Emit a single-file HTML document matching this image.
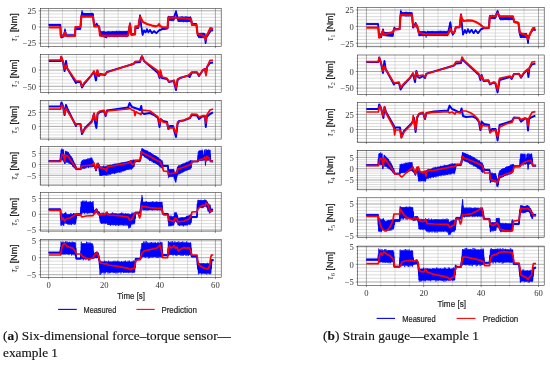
<!DOCTYPE html>
<html lang="en"><head><meta charset="utf-8"><title>Figure</title>
<style>
html,body{margin:0;padding:0;background:#fff;}
body{width:550px;height:368px;position:relative;overflow:hidden;font-family:"Liberation Serif",serif;}
svg text{fill:#222;}
.tk{font-family:"Liberation Serif",serif;font-size:8.6px;fill:#333;}
.sf{font-family:"Liberation Sans",sans-serif;font-size:9.6px;stroke:#222;stroke-width:0.2px;}
.yl{font-family:"Liberation Sans",sans-serif;font-size:8.9px;stroke:#222;stroke-width:0.25px;}
.tau{font-family:"Liberation Serif",serif;font-style:italic;font-size:9.6px;stroke:none;fill:#444;}
.sub{font-family:"Liberation Serif",serif;font-size:6.8px;stroke:none;fill:#444;}
.cap{position:absolute;font-family:"Liberation Serif",serif;font-size:13.3px;line-height:16.9px;color:#111;white-space:nowrap;-webkit-text-stroke:0.15px #111;}
.cap b{font-weight:bold;}
</style></head><body>
<svg width="550" height="368" viewBox="0 0 550 368" style="position:absolute;left:0;top:0">
<rect width="550" height="368" fill="#fff"/>
<clipPath id="c1"><rect x="40.5" y="8.5" width="180.7" height="37.9"/></clipPath>
<path d="M62.5 8.5V46.4M76.4 8.5V46.4M90.3 8.5V46.4M118.1 8.5V46.4M132 8.5V46.4M145.9 8.5V46.4M173.7 8.5V46.4M187.6 8.5V46.4M201.5 8.5V46.4M40.5 14H221.2M40.5 17.3H221.2M40.5 20.5H221.2M40.5 23.8H221.2M40.5 30.2H221.2M40.5 33.5H221.2M40.5 36.7H221.2M40.5 40H221.2" stroke="#b8b8b8" stroke-width="0.5" fill="none"/>
<path d="M48.6 8.5V46.4M104.2 8.5V46.4M159.8 8.5V46.4M215.4 8.5V46.4M40.5 10.8H221.2M40.5 27H221.2M40.5 43.2H221.2" stroke="#707070" stroke-width="0.6" fill="none"/>
<g clip-path="url(#c1)">
<polygon points="48.8,24.2 60.4,24.2 60.8,34.3 61.6,35.3 64,34.3 65,28.3 66,34.4 75,34.4 75.4,28.4 80.4,28.4 81.2,16.3 82,10 82.8,13.3 93,13.3 94,24.4 95.2,25.4 96.6,22.8 98,25.4 99.2,26 100,31.4 106.6,32 107,31.7 128,31.3 129,28.3 130,22 131,31.4 131.6,33.4 135,33.4 135.4,27.4 138.4,27.4 139.2,20.4 140,14.3 141.2,24.4 142.6,34.4 144,29.8 145.6,31.8 147,28.6 148.4,31.8 150,29.4 152,32.6 154,30.6 156.4,32.6 159,29.8 162,28.6 167.6,27.8 168.2,16.4 174,16.4 175,13.3 176,10.3 177.2,15.3 178,17 191,17 192,23.4 196.4,23.4 197.6,33.4 198.4,33.4 205,33.4 205.6,42.4 206.2,36.4 208,34.4 211,29.8 213,29.8 213,31 211,31 208,35.6 206.2,38.6 205.6,44 205,37.6 198.4,37.6 197.6,35.6 196.4,24.6 192,24.6 191,21.6 178,21.6 177.2,18.1 176,12.7 175,16.1 174,20.6 168.2,20.6 167.6,29 162,29.8 159,31 156.4,33.8 154,31.8 152,33.8 150,30.6 148.4,33 147,29.8 145.6,33 144,31 142.6,35.6 141.2,26.6 140,16.6 139.2,22.6 138.4,28.6 135.4,28.6 135,34.6 131.6,35.2 131,33.6 130,25.6 129,31.7 128,36.5 107,36.5 106.6,37.8 100,35.6 99.2,27.2 98,26.6 96.6,24.6 95.2,26.6 94,26 93,16.1 82.8,15.7 82,14.6 81.2,19.7 80.4,29.6 75.4,29.6 75,36.6 66,36.6 65,31.7 64,36.9 61.6,38.1 60.8,37.7 60.4,25.4 48.8,25.4" fill="#0000ff" stroke="#0000ff" stroke-width="0.4" stroke-linejoin="round"/>
<polyline points="48.8,24.8 60.4,24.8 60.8,36 61.6,36.7 64,35.6 65,30 66,35.5 75,35.5 75.4,29 80.4,29 81.2,18 82,12.3 82.8,14.5 93,14.7 94,25.2 95.2,26 96.6,23.7 98,26 99.2,26.6 100,33.5 106.6,34.9 107,34.1 128,33.9 129,30 130,23.8 131,32.5 131.6,34.3 135,34 135.4,28 138.4,28 139.2,21.5 140,15.5 141.2,25.5 142.6,35 144,30.4 145.6,32.4 147,29.2 148.4,32.4 150,30 152,33.2 154,31.2 156.4,33.2 159,30.4 162,29.2 167.6,28.4 168.2,18.5 174,18.5 175,14.7 176,11.5 177.2,16.7 178,19.3 191,19.3 192,24 196.4,24 197.6,34.5 198.4,35.5 205,35.5 205.6,43.2 206.2,37.5 208,35 211,30.4 213,30.4" fill="none" stroke="#0000ff" stroke-width="1.7" stroke-linejoin="round"/>
<polyline points="48.8,24.8 49.4,24.8 50.1,24.8 50.7,24.8 51.4,24.8 52,24.8 52.7,24.8 53.3,24.8 54,24.8 54.6,24.8 55.3,24.8 55.9,24.8 56.6,24.8 57.2,24.8 57.9,24.8 58.5,24.8 59.2,24.8 59.8,24.8 60.5,27.6 61.1,38.2 61.8,35.1 62.4,37.8 63.1,34.4 63.7,37.3 64.4,31.8 65,32.1 65.7,32 66.3,35.5 67,35.5 67.6,35.5 68.3,35.5 69,35.5 69.6,35.5 70.3,35.5 70.9,35.5 71.6,35.5 72.2,35.5 72.9,35.5 73.5,35.5 74.2,35.5 74.8,35.5 75.5,29 76.1,29 76.8,29 77.4,29 78.1,29 78.7,29 79.4,29 80,29 80.7,25.6 81.3,15.3 82,15.5 82.6,12.2 83.3,15.8 83.9,12.9 84.6,16.1 85.2,13.1 85.9,16 86.5,13.1 87.2,16.3 87.8,13.1 88.5,16 89.1,13.1 89.8,16.3 90.4,13.2 91.1,16.3 91.7,12.8 92.4,16.5 93,13.2 93.7,21.5 94.3,25.4 95,25.8 95.6,25.3 96.3,24.3 96.9,24.2 97.6,25.3 98.2,26.1 98.9,26.4 99.5,27.5 100.2,35.8 100.8,30.9 101.5,36.5 102.1,31.3 102.8,36.8 103.4,31.1 104.1,37.4 104.7,31.4 105.4,38 106,31.7 106.7,38.3 107.3,31.3 108,36.9 108.6,31.3 109.3,37.2 109.9,31.5 110.6,37 111.2,31.5 111.9,36.8 112.5,31.2 113.2,37.1 113.8,31.2 114.5,37.2 115.1,31.3 115.8,36.9 116.4,30.8 117.1,37.3 117.7,31.3 118.4,36.9 119,30.8 119.7,36.9 120.3,31.1 121,36.6 121.6,31.2 122.3,37.1 122.9,31.1 123.6,37 124.2,31.1 124.9,36.8 125.5,31.1 126.2,37.2 126.8,31 127.5,36.8 128.1,30.8 128.8,33 129.4,25.4 130.1,26.2 130.7,28.1 131.4,33.6 132,34.3 132.7,34.2 133.3,34.1 134,34.1 134.6,34 135.3,30.2 135.9,28 136.6,28 137.2,28 137.9,28 138.5,27.2 139.2,21.9 139.8,17 140.5,19.3 141.1,24.7 141.8,29.2 142.4,33.6 143.1,33.5 143.7,31.4 144.4,30.8 145,31.7 145.7,32.3 146.3,30.8 147,29.3 147.6,30.6 148.3,32.1 148.9,31.6 149.6,30.7 150.2,30.3 150.9,31.4 151.5,32.4 152.2,33 152.8,32.4 153.5,31.7 154.1,31.3 154.8,31.8 155.4,32.4 156.1,32.9 156.7,32.9 157.4,32.2 158,31.5 158.7,30.8 159.3,30.3 160,30 160.6,29.8 161.3,29.5 161.9,29.2 162.6,29.1 163.2,29 163.9,28.9 164.5,28.8 165.2,28.7 165.8,28.7 166.5,28.6 167.1,28.5 167.8,25.9 168.4,15.9 169.1,20.8 169.7,16.3 170.4,20.9 171,16.3 171.7,21 172.3,16.2 173,21.2 173.6,15.8 174.3,19.6 174.9,13.4 175.6,14.4 176.2,10.9 176.9,16.7 177.5,15.7 178.2,21.7 178.8,16.9 179.5,22 180.1,16.6 180.8,21.8 181.4,16.4 182.1,21.8 182.7,16.3 183.4,22.2 184,16.7 184.7,22 185.3,16.4 186,22.2 186.6,16.5 187.3,22.2 187.9,16.7 188.6,21.9 189.2,16.9 189.9,21.8 190.5,16.5 191.2,22.2 191.8,23.1 192.5,24 193.1,24 193.8,24 194.4,24 195.1,24 195.7,24 196.4,24 197,29.3 197.7,36.2 198.3,33.1 199,38.1 199.6,32.9 200.3,38.2 200.9,32.8 201.6,38.1 202.2,32.8 202.9,38.2 203.5,32.8 204.2,38.2 204.8,33.3 205.5,42.6 206.1,38.4 206.8,36.7 207.4,35.8 208.1,34.9 208.7,33.9 209.4,32.9 210,31.9 210.7,30.9 211.3,30.4 212,30.4 212.6,30.4" fill="none" stroke="#0000ff" stroke-width="0.7" stroke-linejoin="round"/>
<polyline points="48.8,27.4 60.4,27.4 60.8,36 64,35.6 65,32 66,36 75,36 75.4,27 80.4,27 81.4,16.4 93,16.6 94.2,26.4 99,26.4 100,35.6 128,35.6 129,31 130,24 131,32 131,34 131.6,35 135,34.4 135.4,26.4 138.4,26.4 139.4,20 140.4,17 143,22 147,24 152,25.6 156,26.4 158,25.6 159,24 160,26 162,27 167.6,27.6 168.2,17.6 174,17.6 191,19 192,25 196.4,25 197.6,34 204,36 205,38 205.6,39.6 206.4,36 208,33 210.4,28 213,29" fill="none" stroke="#ff0000" stroke-width="2.1" stroke-linejoin="round"/>
</g>
<path d="M48.6 46.4v1.8M104.2 46.4v1.8M159.8 46.4v1.8M215.4 46.4v1.8M40.5 10.8h-1.8M40.5 27h-1.8M40.5 43.2h-1.8" stroke="#222" stroke-width="0.5" fill="none"/>
<path d="M62.5 46.4v1M76.4 46.4v1M90.3 46.4v1M118.1 46.4v1M132 46.4v1M145.9 46.4v1M173.7 46.4v1M187.6 46.4v1M201.5 46.4v1M40.5 14h-1M40.5 17.3h-1M40.5 20.5h-1M40.5 23.8h-1M40.5 30.2h-1M40.5 33.5h-1M40.5 36.7h-1M40.5 40h-1" stroke="#444" stroke-width="0.4" fill="none"/>
<rect x="40.5" y="8.5" width="180.7" height="37.9" fill="none" stroke="#222" stroke-width="0.55"/>
<text x="36.1" y="14" text-anchor="end" class="tk">25</text>
<text x="36.1" y="30.2" text-anchor="end" class="tk">0</text>
<text x="36.1" y="46.4" text-anchor="end" class="tk">−25</text>
<text transform="translate(16.9,27.4) rotate(-90)" text-anchor="middle" class="yl"><tspan class="tau">τ</tspan><tspan class="sub" dy="1.6">1</tspan><tspan dy="-1.6"> [Nm]</tspan></text>
<clipPath id="c2"><rect x="40.5" y="54.6" width="180.7" height="37.9"/></clipPath>
<path d="M62.5 54.6V92.5M76.4 54.6V92.5M90.3 54.6V92.5M118.1 54.6V92.5M132 54.6V92.5M145.9 54.6V92.5M173.7 54.6V92.5M187.6 54.6V92.5M201.5 54.6V92.5M40.5 57.1H221.2M40.5 60.4H221.2M40.5 63.6H221.2M40.5 66.9H221.2M40.5 73.3H221.2M40.5 76.6H221.2M40.5 79.8H221.2M40.5 83.1H221.2M40.5 89.5H221.2" stroke="#b8b8b8" stroke-width="0.5" fill="none"/>
<path d="M48.6 54.6V92.5M104.2 54.6V92.5M159.8 54.6V92.5M215.4 54.6V92.5M40.5 70.1H221.2M40.5 86.3H221.2" stroke="#707070" stroke-width="0.6" fill="none"/>
<g clip-path="url(#c2)">
<polyline points="48.8,61 60.6,61 61.2,57 63,62 64.6,71 66,61 67,68 76,83 76.6,82 80.4,82 82,87.6 84,84 90,77 94,72 96,80.4 97.4,71 99,76 100.4,74 105,75 107,72 108,71.6 131,64.6 131,64.8 134,63.6 135,62.4 140,62 141,58 142,56.4 143,58.4 144,61 158,73 159.6,78 160.4,72 162,78 167,79 169,82 173,81 174,82 176,90 177.6,80 180,78 188,75.6 189.6,77 192,72.4 197,72.4 199,76 203,70 205,69 206,74 207,67 210,63 213,62.4" fill="none" stroke="#0000ff" stroke-width="2.0" stroke-linejoin="round"/>
<polyline points="48.8,60 60.6,60 61.2,56.4 63,61 64.6,69 66,65 67,68 76,81 80.4,81 82,86.4 84,83 90,77 94,71 96,76 97.4,70 99,75 105,74.4 107,72.4 108,72 131,64.6 131,64.4 134,63.4 135,61.6 140,61.2 141,59 142,56 143,58.4 144,61 158,71 159.6,77 160.4,70 162,77 167,78.4 169,81.6 173,81 174,80 176,88 177.6,79 180,78 188,75.6 192,72 197,72 199,75.6 203,70 205,69 206,75.6 207,67 210,60.4 213,60.4" fill="none" stroke="#ff0000" stroke-width="1.7" stroke-linejoin="round"/>
</g>
<path d="M48.6 92.5v1.8M104.2 92.5v1.8M159.8 92.5v1.8M215.4 92.5v1.8M40.5 70.1h-1.8M40.5 86.3h-1.8" stroke="#222" stroke-width="0.5" fill="none"/>
<path d="M62.5 92.5v1M76.4 92.5v1M90.3 92.5v1M118.1 92.5v1M132 92.5v1M145.9 92.5v1M173.7 92.5v1M187.6 92.5v1M201.5 92.5v1M40.5 57.1h-1M40.5 60.4h-1M40.5 63.6h-1M40.5 66.9h-1M40.5 73.3h-1M40.5 76.6h-1M40.5 79.8h-1M40.5 83.1h-1M40.5 89.5h-1" stroke="#444" stroke-width="0.4" fill="none"/>
<rect x="40.5" y="54.6" width="180.7" height="37.9" fill="none" stroke="#222" stroke-width="0.55"/>
<text x="36.1" y="73.3" text-anchor="end" class="tk">0</text>
<text x="36.1" y="89.5" text-anchor="end" class="tk">−50</text>
<text transform="translate(16.9,73.5) rotate(-90)" text-anchor="middle" class="yl"><tspan class="tau">τ</tspan><tspan class="sub" dy="1.6">2</tspan><tspan dy="-1.6"> [Nm]</tspan></text>
<clipPath id="c3"><rect x="40.5" y="100.6" width="180.7" height="38.5"/></clipPath>
<path d="M62.5 100.6V139.1M76.4 100.6V139.1M90.3 100.6V139.1M118.1 100.6V139.1M132 100.6V139.1M145.9 100.6V139.1M173.7 100.6V139.1M187.6 100.6V139.1M201.5 100.6V139.1M40.5 101H221.2M40.5 103.8H221.2M40.5 106.7H221.2M40.5 109.5H221.2M40.5 115.1H221.2M40.5 117.9H221.2M40.5 120.8H221.2M40.5 123.6H221.2M40.5 129.2H221.2M40.5 132H221.2M40.5 134.9H221.2M40.5 137.7H221.2" stroke="#b8b8b8" stroke-width="0.5" fill="none"/>
<path d="M48.6 100.6V139.1M104.2 100.6V139.1M159.8 100.6V139.1M215.4 100.6V139.1M40.5 112.3H221.2M40.5 126.4H221.2" stroke="#707070" stroke-width="0.6" fill="none"/>
<g clip-path="url(#c3)">
<polyline points="48.8,106.4 60.6,106.4 61.4,102.4 63,106 64.6,115 66,105 68,110 76,126 76.6,124 80.4,124 82,134 85,128 92,121 94,114 95,122 96.4,128 97.6,114 100,112 104,111 105.6,116 107,110.4 128,107.6 129.6,103 131,105.6 131,105.4 132,107 138,109 140,110 141.2,106 142.4,113 144,114 150,113 154,115 158,118 159.6,127 160.6,119 163,121 167,122 168.4,129 170,126 173,126 174,130 176,137 177.6,124 179,121 184,120.4 190,118 191.6,115 197,115.6 199,119 203,116 205,117 205.8,127 206.8,117 210,114 213,112.4" fill="none" stroke="#0000ff" stroke-width="2.0" stroke-linejoin="round"/>
<polyline points="48.8,109.2 60.6,109.2 61.4,105 63,106.4 64.6,114 66,108 68,112 76,125 76.6,124 80.4,124 82,132.4 85,129 92,122 94,113 95,119 96.4,121 97.6,113 100,111 104,110.4 105.6,115 107,111 128,109 129.6,108 131,109.2 131,109.2 132,110 134,110.4 135,115.6 136,111.6 138,113 141,114.4 142.4,110 150,111 154,114 158,117 159.6,124 160.6,119 163,122 167,123 168.4,129 170,128 173.6,127.6 176,133.6 177.6,122 179,121.6 184,120 190,117.6 191.6,114 197,114.4 199,117 203,115.6 205,115.6 205.8,123 206.8,115 210,110 213,109" fill="none" stroke="#ff0000" stroke-width="1.7" stroke-linejoin="round"/>
</g>
<path d="M48.6 139.1v1.8M104.2 139.1v1.8M159.8 139.1v1.8M215.4 139.1v1.8M40.5 112.3h-1.8M40.5 126.4h-1.8" stroke="#222" stroke-width="0.5" fill="none"/>
<path d="M62.5 139.1v1M76.4 139.1v1M90.3 139.1v1M118.1 139.1v1M132 139.1v1M145.9 139.1v1M173.7 139.1v1M187.6 139.1v1M201.5 139.1v1M40.5 101h-1M40.5 103.8h-1M40.5 106.7h-1M40.5 109.5h-1M40.5 115.1h-1M40.5 117.9h-1M40.5 120.8h-1M40.5 123.6h-1M40.5 129.2h-1M40.5 132h-1M40.5 134.9h-1M40.5 137.7h-1" stroke="#444" stroke-width="0.4" fill="none"/>
<rect x="40.5" y="100.6" width="180.7" height="38.5" fill="none" stroke="#222" stroke-width="0.55"/>
<text x="36.1" y="115.5" text-anchor="end" class="tk">25</text>
<text x="36.1" y="129.6" text-anchor="end" class="tk">0</text>
<text transform="translate(16.9,119.8) rotate(-90)" text-anchor="middle" class="yl"><tspan class="tau">τ</tspan><tspan class="sub" dy="1.6">3</tspan><tspan dy="-1.6"> [Nm]</tspan></text>
<clipPath id="c4"><rect x="40.5" y="146.6" width="180.7" height="38.5"/></clipPath>
<path d="M62.5 146.6V185.1M76.4 146.6V185.1M90.3 146.6V185.1M118.1 146.6V185.1M132 146.6V185.1M145.9 146.6V185.1M173.7 146.6V185.1M187.6 146.6V185.1M201.5 146.6V185.1M40.5 149H221.2M40.5 151.2H221.2M40.5 155.6H221.2M40.5 157.8H221.2M40.5 160H221.2M40.5 162.2H221.2M40.5 166.6H221.2M40.5 168.8H221.2M40.5 171H221.2M40.5 173.2H221.2M40.5 177.6H221.2M40.5 179.8H221.2M40.5 182H221.2M40.5 184.2H221.2" stroke="#b8b8b8" stroke-width="0.5" fill="none"/>
<path d="M48.6 146.6V185.1M104.2 146.6V185.1M159.8 146.6V185.1M215.4 146.6V185.1M40.5 153.4H221.2M40.5 164.4H221.2M40.5 175.3H221.2" stroke="#707070" stroke-width="0.6" fill="none"/>
<g clip-path="url(#c4)">
<polygon points="48.8,160.6 60.4,160.6 60.8,149.9 63.6,149.9 64.2,156.6 65,156.6 65.4,151.3 68,152.5 72,157.7 76,166.3 76.6,168.3 81,168.3 81.4,161.1 92,158.4 93.6,162.4 95,166.3 96,169.3 97,163.4 99,163.4 99.6,166.8 106,166.8 107.4,165.8 118,163.8 128,161.7 131,160.7 131,160.8 132.4,160.4 134,160.2 135.2,159.9 140,159.9 140.8,153.6 141.6,148.6 150,152.7 158,157.6 161,160.6 162.6,161.6 163.2,165.2 168,165.2 168.4,170.7 169.2,169.6 174,169.6 174.6,172.7 176,174.7 177,168.6 177.6,166.7 184,163.7 191,160.7 192,160.9 198,160.9 198.4,150.9 203,150.9 203.4,156.4 204,156.4 204.4,150.4 205,150.5 205.4,155 206,150.5 210,150.4 210.4,160.7 213,160.7 213,161.9 210.4,161.9 210,159.2 206,160.1 205.4,165 205,160.1 204.4,159.2 204,160 203.4,160 203,160.1 198.4,160.1 198,162.1 192,162.1 191,168.3 184,171.3 177.6,174.3 177,175.4 176,182.3 174.6,180.3 174,176.4 169.2,176.4 168.4,178.3 168,166.4 163.2,166.4 162.6,168.4 161,167.4 158,164.4 150,160.3 141.6,154.4 140.8,159.4 140,161.7 135.2,161.7 134,166.4 132.4,168.2 131,168.8 131,168.5 128,169.3 118,172.2 107.4,174.2 106,174.8 99.6,175.6 99,167.6 97,167.6 96,171.2 95,167.7 93.6,166.6 92,166.2 81.4,168.3 81,169.7 76.6,169.7 76,169.7 72,164.9 68,162.1 65.4,161.1 65,163.4 64.2,163.4 63.6,159.5 60.8,159.5 60.4,161.8 48.8,161.8" fill="#0000ff" stroke="#0000ff" stroke-width="0.4" stroke-linejoin="round"/>
<polyline points="48.8,161.2 60.4,161.2 60.8,154.7 63.6,154.7 64.2,160 65,160 65.4,156.2 68,157.3 72,161.3 76,168 76.6,169 81,169 81.4,164.7 92,162.3 93.6,164.5 95,167 96,170.3 97,165.5 99,165.5 99.6,171.2 106,170.8 107.4,170 118,168 128,165.5 131,164.6 131,164.8 132.4,164.3 134,163.3 135.2,160.8 140,160.8 140.8,156.5 141.6,151.5 150,156.5 158,161 161,164 162.6,165 163.2,165.8 168,165.8 168.4,174.5 169.2,173 174,173 174.6,176.5 176,178.5 177,172 177.6,170.5 184,167.5 191,164.5 192,161.5 198,161.5 198.4,155.5 203,155.5 203.4,158.2 204,158.2 204.4,154.8 205,155.3 205.4,160 206,155.3 210,154.8 210.4,161.3 213,161.3" fill="none" stroke="#0000ff" stroke-width="1.7" stroke-linejoin="round"/>
<polyline points="48.8,161.2 49.4,161.2 50.1,161.2 50.7,161.2 51.4,161.2 52,161.2 52.7,161.2 53.3,161.2 54,161.2 54.6,161.2 55.3,161.2 55.9,161.2 56.6,161.2 57.2,161.2 57.9,161.2 58.5,161.2 59.2,161.2 59.8,161.2 60.5,157.5 61.1,160 61.8,148.6 62.4,160.4 63.1,149.3 63.7,161.7 64.4,156.4 65,164 65.7,150.9 66.3,162.8 67,151.4 67.6,162.6 68.3,152 69,163.9 69.6,154.4 70.3,164 70.9,156.1 71.6,164.7 72.2,158 72.9,166.9 73.5,160.8 74.2,168.1 74.8,163.5 75.5,169.4 76.1,166.6 76.8,169 77.4,169 78.1,169 78.7,169 79.4,169 80,169 80.7,169 81.3,162 82,169.1 82.6,160 83.3,168.8 83.9,159.3 84.6,168.8 85.2,159.4 85.9,168.4 86.5,159.2 87.2,167.3 87.8,158.4 88.5,168.1 89.1,158.2 89.8,167.3 90.4,157.8 91.1,167.4 91.7,157.5 92.4,167.2 93,160.7 93.7,166.7 94.3,164.2 95,166.9 95.6,169 96.3,170.8 96.9,163.9 97.6,168.1 98.2,162.8 98.9,167.7 99.5,165.3 100.2,175.9 100.8,166.2 101.5,176 102.1,166.6 102.8,175.4 103.4,165.6 104.1,175.2 104.7,166.7 105.4,175.3 106,165.7 106.7,175.7 107.3,165.4 108,175.4 108.6,165.4 109.3,174.7 109.9,164.8 110.6,174.8 111.2,165 111.9,173.7 112.5,164.6 113.2,173.4 113.8,163.9 114.5,174.1 115.1,163.5 115.8,173.4 116.4,163.7 117.1,172.6 117.7,163.5 118.4,172.3 119,163.2 119.7,172.7 120.3,162.8 121,172.6 121.6,162.4 122.3,171.4 122.9,162.3 123.6,171.3 124.2,162 124.9,171 125.5,161.9 126.2,170 126.8,161.8 127.5,169.6 128.1,161 128.8,169.9 129.4,160.9 130.1,169.5 130.7,160 131.4,169.7 132,160.3 132.7,168.4 133.3,159.6 134,166.7 134.6,159.9 135.3,160.8 135.9,160.8 136.6,160.8 137.2,160.8 137.9,160.8 138.5,160.8 139.2,160.8 139.8,160.8 140.5,160.6 141.1,151 141.8,154.7 142.4,148.3 143.1,155.9 143.7,148.9 144.4,157.3 145,150 145.7,157.6 146.3,150.4 147,158.5 147.6,150.6 148.3,159.6 148.9,151.8 149.6,161.1 150.2,152.1 150.9,160.9 151.5,153.3 152.2,162.2 152.8,154.3 153.5,163.1 154.1,155 154.8,163.2 155.4,155.6 156.1,163.9 156.7,156.1 157.4,164.9 158,157 158.7,165.5 159.3,158.8 160,167.2 160.6,159.3 161.3,168.1 161.9,160.2 162.6,168.6 163.2,165.8 163.9,165.8 164.5,165.8 165.2,165.8 165.8,165.8 166.5,165.8 167.1,165.8 167.8,165.8 168.4,170.3 169.1,177 169.7,169.5 170.4,176.6 171,168.9 171.7,176.6 172.3,169.2 173,176.8 173.6,168.9 174.3,178.8 174.9,173 175.6,182.4 176.2,172.5 176.9,176.5 177.5,166.9 178.2,174.6 178.8,165.1 179.5,174.2 180.1,165.4 180.8,173.6 181.4,164.1 182.1,172.8 182.7,163.6 183.4,172.2 184,163.2 184.7,171.4 185.3,162.7 186,170.8 186.6,161.8 187.3,170.4 187.9,161.9 188.6,170 189.2,160.7 189.9,169.8 190.5,160.2 191.2,168.1 191.8,160.5 192.5,161.5 193.1,161.5 193.8,161.5 194.4,161.5 195.1,161.5 195.7,161.5 196.4,161.5 197,161.5 197.7,161.5 198.3,152.3 199,160.3 199.6,150.5 200.3,161 200.9,150.2 201.6,160.9 202.2,149.7 202.9,161.1 203.5,156 204.2,160.3 204.8,149.6 205.5,165.7 206.1,149.1 206.8,160.9 207.4,149.9 208.1,160.9 208.7,149.5 209.4,159.6 210,149.9 210.7,161.3 211.3,161.3 212,161.3 212.6,161.3" fill="none" stroke="#0000ff" stroke-width="0.7" stroke-linejoin="round"/>
<polyline points="48.8,161.4 60.6,161.4 62,154.4 63.6,155 64.6,161 65.6,155 68,156.4 76,168 76.6,168.6 81,168.6 81.6,166 92,165 94,163 95,167 96,169.6 97.2,163.6 99,166 100.4,167.6 105,169 106.4,171 107.4,167 129,163 130.4,161 131,162 131,162.8 132,164.4 134,164 135.4,160.4 140,160 141.6,151.6 143,153 150,156.4 158,161 160.4,162 161.6,165 162.4,167 163.6,171 168,171.6 169,174 174,173 177,172 178,169 184,167 191,164.4 192,161.6 198,161 200,159.6 203,159 205,157 206,161 207,156.4 209,158 210.4,161 213,161.4" fill="none" stroke="#ff0000" stroke-width="1.7" stroke-linejoin="round"/>
</g>
<path d="M48.6 185.1v1.8M104.2 185.1v1.8M159.8 185.1v1.8M215.4 185.1v1.8M40.5 153.4h-1.8M40.5 164.4h-1.8M40.5 175.3h-1.8" stroke="#222" stroke-width="0.5" fill="none"/>
<path d="M62.5 185.1v1M76.4 185.1v1M90.3 185.1v1M118.1 185.1v1M132 185.1v1M145.9 185.1v1M173.7 185.1v1M187.6 185.1v1M201.5 185.1v1M40.5 149h-1M40.5 151.2h-1M40.5 155.6h-1M40.5 157.8h-1M40.5 160h-1M40.5 162.2h-1M40.5 166.6h-1M40.5 168.8h-1M40.5 171h-1M40.5 173.2h-1M40.5 177.6h-1M40.5 179.8h-1M40.5 182h-1M40.5 184.2h-1" stroke="#444" stroke-width="0.4" fill="none"/>
<rect x="40.5" y="146.6" width="180.7" height="38.5" fill="none" stroke="#222" stroke-width="0.55"/>
<text x="36.1" y="156.6" text-anchor="end" class="tk">5</text>
<text x="36.1" y="167.6" text-anchor="end" class="tk">0</text>
<text x="36.1" y="178.5" text-anchor="end" class="tk">−5</text>
<text transform="translate(16.9,165.8) rotate(-90)" text-anchor="middle" class="yl"><tspan class="tau">τ</tspan><tspan class="sub" dy="1.6">4</tspan><tspan dy="-1.6"> [Nm]</tspan></text>
<clipPath id="c5"><rect x="40.5" y="192.6" width="180.7" height="38.5"/></clipPath>
<path d="M62.5 192.6V231.1M76.4 192.6V231.1M90.3 192.6V231.1M118.1 192.6V231.1M132 192.6V231.1M145.9 192.6V231.1M173.7 192.6V231.1M187.6 192.6V231.1M201.5 192.6V231.1M40.5 195.4H221.2M40.5 201.6H221.2M40.5 204.8H221.2M40.5 207.9H221.2M40.5 211.1H221.2M40.5 217.3H221.2M40.5 220.5H221.2M40.5 223.6H221.2M40.5 226.8H221.2" stroke="#b8b8b8" stroke-width="0.5" fill="none"/>
<path d="M48.6 192.6V231.1M104.2 192.6V231.1M159.8 192.6V231.1M215.4 192.6V231.1M40.5 198.5H221.2M40.5 214.2H221.2M40.5 229.9H221.2" stroke="#707070" stroke-width="0.6" fill="none"/>
<g clip-path="url(#c5)">
<polygon points="48.8,208.8 60.4,208.8 60.8,214 64,214.6 64.6,212.9 66,212.9 67,214.9 74,213.9 76,213.8 76.4,213.3 80.8,213.3 81.2,202 93,202.6 93.4,210.3 95,209.9 96.6,208.4 98,211.3 99.6,212.3 100.4,213.9 106.6,213.9 107,212.6 107.6,214 128,214 129,215.2 131,214.7 131,214 135,213.9 135.4,211.9 140,211.9 141,204.5 141.8,195 142.2,195 142.6,202.3 162,202.3 162.6,212.3 163.2,213.3 168,213.3 168.6,216.9 169.2,216.8 174,216.8 174.4,212.8 176.4,212.8 177.6,215.7 178,218.2 184,217.7 191,214.8 191.6,216.3 197,216.3 197.6,200.6 203,200.6 205.6,200.1 207,201.6 208,203.6 210,205.7 211,208.3 211.4,209.1 213,209.1 213,210.3 211.4,210.3 211,211.3 210,213.3 208,210.4 207,207.4 205.6,205.9 203,207.4 197.6,207.4 197,217.7 191.6,217.7 191,223.6 184,225.3 178,225 177.6,223.3 176.4,221.2 174.4,221.2 174,225.2 169.2,225.2 168.6,226.1 168,214.7 163.2,214.7 162.6,213.7 162,209.7 142.6,209.7 142.2,206 141.8,205 141,209.5 140,213.2 135.4,213.2 135,223.1 131,224 131,225.9 129,227.8 128,224.6 107.6,224.6 107,223 106.6,223.1 100.4,223.1 99.6,215.7 98,214.7 96.6,212 95,213.3 93.4,213.7 93,212.6 81.2,212.6 80.8,215.7 76.4,215.7 76,222.8 74,223.5 67,224.1 66,222.7 64.6,222.1 64,224.6 60.8,224.6 60.4,210.1 48.8,210.1" fill="#0000ff" stroke="#0000ff" stroke-width="0.4" stroke-linejoin="round"/>
<polyline points="48.8,209.4 60.4,209.4 60.8,219.3 64,219.6 64.6,217.5 66,217.8 67,219.5 74,218.7 76,218.3 76.4,214.5 80.8,214.5 81.2,207.3 93,207.6 93.4,212 95,211.6 96.6,210.2 98,213 99.6,214 100.4,218.5 106.6,218.5 107,217.8 107.6,219.3 128,219.3 129,221.5 131,220.3 131,219 135,218.5 135.4,212.6 140,212.6 141,207 141.8,200 142.2,200.5 142.6,206 162,206 162.6,213 163.2,214 168,214 168.6,221.5 169.2,221 174,221 174.4,217 176.4,217 177.6,219.5 178,221.6 184,221.5 191,219.2 191.6,217 197,217 197.6,204 203,204 205.6,203 207,204.5 208,207 210,209.5 211,209.8 211.4,209.7 213,209.7" fill="none" stroke="#0000ff" stroke-width="1.7" stroke-linejoin="round"/>
<polyline points="48.8,209.4 49.4,209.4 50.1,209.4 50.7,209.4 51.4,209.4 52,209.4 52.7,209.4 53.3,209.4 54,209.4 54.6,209.4 55.3,209.4 55.9,209.4 56.6,209.4 57.2,209.4 57.9,209.4 58.5,209.4 59.2,209.4 59.8,209.4 60.5,209.8 61.1,226 61.8,213.1 62.4,225 63.1,213.6 63.7,226 64.4,213.3 65,223.7 65.7,212.2 66.3,223.7 67,214 67.6,224.3 68.3,214.1 69,224.9 69.6,214.2 70.3,224.6 70.9,212.9 71.6,225.1 72.2,214 72.9,223.9 73.5,213.1 74.2,224.9 74.8,213.4 75.5,224.3 76.1,213.4 76.8,214.5 77.4,214.5 78.1,214.5 78.7,214.5 79.4,214.5 80,214.5 80.7,214.5 81.3,201.6 82,213.7 82.6,200.7 83.3,212.9 83.9,200.6 84.6,213.9 85.2,200.8 85.9,212.8 86.5,200.7 87.2,213.9 87.8,201.9 88.5,213.3 89.1,201.5 89.8,213.2 90.4,201.2 91.1,212.8 91.7,202.3 92.4,213.1 93,201.1 93.7,213.8 94.3,210 95,213.6 95.6,208.9 96.3,212.8 96.9,208.7 97.6,213.9 98.2,211.4 98.9,215.4 99.5,211.8 100.2,221.5 100.8,213.6 101.5,223.9 102.1,212.6 102.8,223.8 103.4,212.7 104.1,223.6 104.7,213.6 105.4,224.1 106,212.7 106.7,223.5 107.3,211.7 108,225 108.6,213.2 109.3,225 109.9,213.8 110.6,225.8 111.2,212.9 111.9,224.9 112.5,212.5 113.2,225.4 113.8,212.9 114.5,225 115.1,213 115.8,225.9 116.4,213.4 117.1,225.2 117.7,213.8 118.4,225.9 119,213.5 119.7,225.4 120.3,213.1 121,225.3 121.6,212.5 122.3,225.3 122.9,212.8 123.6,225.7 124.2,213.8 124.9,225.6 125.5,213.3 126.2,225.7 126.8,213.8 127.5,225.5 128.1,213.4 128.8,228.5 129.4,213.8 130.1,227.9 130.7,214.4 131.4,224.5 132,212.6 132.7,224.5 133.3,212.6 134,224.3 134.6,212.6 135.3,217.6 135.9,212.6 136.6,212.6 137.2,212.6 137.9,212.6 138.5,212.6 139.2,212.6 139.8,212.6 140.5,212.1 141.1,202.5 141.8,206.4 142.4,197.4 143.1,210.5 143.7,202 144.4,210.3 145,201.7 145.7,210.4 146.3,201.2 147,210.7 147.6,202.2 148.3,210.5 148.9,202 149.6,210.2 150.2,202.1 150.9,210.2 151.5,201.9 152.2,210.7 152.8,201.2 153.5,210.2 154.1,202 154.8,210.4 155.4,201.9 156.1,210.3 156.7,201.4 157.4,210.5 158,202 158.7,210.3 159.3,202 160,210.6 160.6,202.1 161.3,210.4 161.9,201.9 162.6,212.4 163.2,214 163.9,214 164.5,214 165.2,214 165.8,214 166.5,214 167.1,214 167.8,214 168.4,215.1 169.1,226.4 169.7,215.6 170.4,226.2 171,215.6 171.7,226.1 172.3,216.6 173,225.3 173.6,216.3 174.3,223.2 174.9,212.5 175.6,221.6 176.2,212.4 176.9,222.7 177.5,215.3 178.2,225.3 178.8,218.1 179.5,226 180.1,217.6 180.8,225.3 181.4,217.2 182.1,225.4 182.7,217.1 183.4,226.4 184,217.4 184.7,225.2 185.3,217 186,225.6 186.6,215.9 187.3,225.6 187.9,215.8 188.6,224.4 189.2,215.4 189.9,225.1 190.5,214.3 191.2,222.7 191.8,217 192.5,217 193.1,217 193.8,217 194.4,217 195.1,217 195.7,217 196.4,217 197,217 197.7,208.1 198.3,199.8 199,207.6 199.6,200.2 200.3,207.7 200.9,199.8 201.6,207.6 202.2,200.4 202.9,208.2 203.5,200.3 204.2,206.8 204.8,199.5 205.5,206.2 206.1,200.2 206.8,207.3 207.4,201.8 208.1,211.4 208.7,203.6 209.4,213.4 210,204.6 210.7,212.5 211.3,209.7 212,209.7 212.6,209.7" fill="none" stroke="#0000ff" stroke-width="0.7" stroke-linejoin="round"/>
<polyline points="48.8,210.4 60.6,210.4 61.6,220 63,218 64.6,221 66,219 70,218 75,215 76,214 80.4,215 82,217 86,216 93,215.6 94.6,213 96.4,209.6 97.6,213 100,215 105,214.4 106.6,212.4 108,215 118,215.6 128,217 129.6,220 131,219.4 131,219.4 132,219 134,215 135.4,213 138,213 139.6,218 140.6,215 141.6,206 143,206.4 150,207.6 158,208.4 161.6,208 162.6,213 164,215 168,215 169,220 172,221 174,221.6 175,218 177,219 178,222 184,221 189,219 191,216 192,212 197,211.6 198,209 200,207 203,205 205,206 206,203 207.6,204 209,208 210.4,211.6 213,211" fill="none" stroke="#ff0000" stroke-width="1.7" stroke-linejoin="round"/>
</g>
<path d="M48.6 231.1v1.8M104.2 231.1v1.8M159.8 231.1v1.8M215.4 231.1v1.8M40.5 198.5h-1.8M40.5 214.2h-1.8M40.5 229.9h-1.8" stroke="#222" stroke-width="0.5" fill="none"/>
<path d="M62.5 231.1v1M76.4 231.1v1M90.3 231.1v1M118.1 231.1v1M132 231.1v1M145.9 231.1v1M173.7 231.1v1M187.6 231.1v1M201.5 231.1v1M40.5 195.4h-1M40.5 201.6h-1M40.5 204.8h-1M40.5 207.9h-1M40.5 211.1h-1M40.5 217.3h-1M40.5 220.5h-1M40.5 223.6h-1M40.5 226.8h-1" stroke="#444" stroke-width="0.4" fill="none"/>
<rect x="40.5" y="192.6" width="180.7" height="38.5" fill="none" stroke="#222" stroke-width="0.55"/>
<text x="36.1" y="201.7" text-anchor="end" class="tk">5</text>
<text x="36.1" y="217.4" text-anchor="end" class="tk">0</text>
<text x="36.1" y="233.1" text-anchor="end" class="tk">−5</text>
<text transform="translate(16.9,211.8) rotate(-90)" text-anchor="middle" class="yl"><tspan class="tau">τ</tspan><tspan class="sub" dy="1.6">5</tspan><tspan dy="-1.6"> [Nm]</tspan></text>
<clipPath id="c6"><rect x="40.5" y="239.6" width="180.7" height="37.8"/></clipPath>
<path d="M62.5 239.6V277.4M76.4 239.6V277.4M90.3 239.6V277.4M118.1 239.6V277.4M132 239.6V277.4M145.9 239.6V277.4M173.7 239.6V277.4M187.6 239.6V277.4M201.5 239.6V277.4M40.5 244.2H221.2M40.5 247.6H221.2M40.5 250.9H221.2M40.5 254.3H221.2M40.5 261.1H221.2M40.5 264.5H221.2M40.5 267.8H221.2M40.5 271.2H221.2" stroke="#b8b8b8" stroke-width="0.5" fill="none"/>
<path d="M48.6 239.6V277.4M104.2 239.6V277.4M159.8 239.6V277.4M215.4 239.6V277.4M40.5 240.8H221.2M40.5 257.7H221.2M40.5 274.7H221.2" stroke="#707070" stroke-width="0.6" fill="none"/>
<g clip-path="url(#c6)">
<polygon points="48.8,251.9 60.4,251.9 60.8,241.2 61.4,242.7 75.6,242.7 76.2,258 80.8,258 81.2,243.8 92.8,243.8 93.4,253.5 95,252.9 96.6,252.1 98.6,253.4 99.4,258.5 100,262.1 100.6,262 131,262 131,262 135,262 135.6,258 140.4,258.4 141,250.7 141.6,243.3 162,243.2 162.6,254.3 168,254.3 168.4,242.7 191,243.1 191.6,255.5 197,255.5 197.6,262.5 198.4,264 199,263.9 211,263.9 211.6,259.6 213.4,259.6 213.4,260.8 211.6,260.8 211,273.1 199,273.1 198.4,274.6 197.6,267.5 197,257.2 191.6,257.2 191,254.5 168.4,254.5 168,256 162.6,256 162,256.4 141.6,256.7 141,258.3 140.4,260 135.6,259.6 135,272 131,272 131,272 100.6,272 100,273.9 99.4,263.5 98.6,258 96.6,257.5 95,257.9 93.4,258.5 92.8,258.2 81.2,258.6 80.8,259.2 76.2,259.2 75.6,253.9 61.4,253.9 60.8,253.8 60.4,253.2 48.8,253.2" fill="#0000ff" stroke="#0000ff" stroke-width="0.4" stroke-linejoin="round"/>
<polyline points="48.8,252.6 60.4,252.6 60.8,247.5 61.4,248.3 75.6,248.3 76.2,258.6 80.8,258.6 81.2,251.2 92.8,251 93.4,256 95,255.4 96.6,254.8 98.6,255.7 99.4,261 100,268 100.6,267 131,267 131,267 135,267 135.6,258.8 140.4,259.2 141,254.5 141.6,250 162,249.8 162.6,255.2 168,255.2 168.4,248.6 191,248.8 191.6,256.4 197,256.4 197.6,265 198.4,269.3 199,268.5 211,268.5 211.6,260.2 213.4,260.2" fill="none" stroke="#0000ff" stroke-width="1.7" stroke-linejoin="round"/>
<polyline points="48.8,252.6 49.4,252.6 50.1,252.6 50.7,252.6 51.4,252.6 52,252.6 52.7,252.6 53.3,252.6 54,252.6 54.6,252.6 55.3,252.6 55.9,252.6 56.6,252.6 57.2,252.6 57.9,252.6 58.5,252.6 59.2,252.6 59.8,252.6 60.5,248.5 61.1,254.8 61.8,242.4 62.4,254.3 63.1,241.6 63.7,254.5 64.4,242.5 65,254.6 65.7,241.2 66.3,254.2 67,241.4 67.6,254.4 68.3,242.2 69,255.1 69.6,241.8 70.3,254.1 70.9,242.5 71.6,255.5 72.2,241.5 72.9,254.8 73.5,242 74.2,255.4 74.8,242.3 75.5,254.9 76.1,254.9 76.8,258.6 77.4,258.6 78.1,258.6 78.7,258.6 79.4,258.6 80,258.6 80.7,258.6 81.3,241.7 82,259.3 82.6,243.5 83.3,260.3 83.9,243 84.6,259.3 85.2,243.3 85.9,260.1 86.5,241.7 87.2,259.3 87.8,242.2 88.5,260.5 89.1,242.4 89.8,260.4 90.4,242.7 91.1,258.5 91.7,243.3 92.4,258.9 93,245.6 93.7,258.6 94.3,252.8 95,258 95.6,252 96.3,258.3 96.9,251.5 97.6,257.9 98.2,252.5 98.9,260.2 99.5,258.4 100.2,275 100.8,260.9 101.5,273.5 102.1,261.4 102.8,273.1 103.4,261.6 104.1,273.6 104.7,260.7 105.4,273.4 106,261 106.7,272.2 107.3,261.6 108,273.6 108.6,260.7 109.3,273.3 109.9,261.4 110.6,273.1 111.2,261.5 111.9,272.4 112.5,261.5 113.2,273.2 113.8,260.9 114.5,272.9 115.1,260.8 115.8,273.5 116.4,261.4 117.1,273.4 117.7,260.6 118.4,272.7 119,261.1 119.7,272.4 120.3,261.8 121,273.5 121.6,261 122.3,272.2 122.9,261.7 123.6,273.1 124.2,260.9 124.9,272.9 125.5,260.6 126.2,273 126.8,261.7 127.5,272.5 128.1,260.8 128.8,273.2 129.4,260.6 130.1,272.9 130.7,261.7 131.4,272.5 132,261.2 132.7,273.1 133.3,260.5 134,273 134.6,260.9 135.3,267.6 135.9,258.8 136.6,258.9 137.2,258.9 137.9,259 138.5,259 139.2,259.1 139.8,259.2 140.5,258.8 141.1,248.9 141.8,258.4 142.4,243 143.1,256.9 143.7,241.5 144.4,257.3 145,241.6 145.7,258 146.3,241.2 147,256.9 147.6,242.3 148.3,258.4 148.9,242.8 149.6,258.1 150.2,242.4 150.9,257.5 151.5,242.1 152.2,257.8 152.8,242.6 153.5,257.3 154.1,242.4 154.8,257 155.4,242.3 156.1,257.9 156.7,243 157.4,257.8 158,241.9 158.7,257.9 159.3,242.9 160,257.1 160.6,241.9 161.3,257.7 161.9,242.1 162.6,256.3 163.2,255.2 163.9,255.2 164.5,255.2 165.2,255.2 165.8,255.2 166.5,255.2 167.1,255.2 167.8,255.2 168.4,241 169.1,255.5 169.7,241.9 170.4,254.8 171,241.6 171.7,254.6 172.3,241.1 173,255.6 173.6,242.5 174.3,254.7 174.9,241.3 175.6,255.5 176.2,242.1 176.9,256.1 177.5,241.9 178.2,254.9 178.8,241.3 179.5,255.1 180.1,242.2 180.8,255.7 181.4,241.9 182.1,255.9 182.7,241.4 183.4,255.7 184,241.9 184.7,254.7 185.3,242.4 186,256 186.6,241.4 187.3,255.4 187.9,242.4 188.6,255.8 189.2,242.7 189.9,255 190.5,242.4 191.2,255.6 191.8,256.4 192.5,256.4 193.1,256.4 193.8,256.4 194.4,256.4 195.1,256.4 195.7,256.4 196.4,256.4 197,256.4 197.7,268.5 198.3,263 199,273.6 199.6,263 200.3,273.3 200.9,263 201.6,274.3 202.2,263 202.9,273.8 203.5,263 204.2,274 204.8,263.2 205.5,273.8 206.1,263.1 206.8,274.5 207.4,262.8 208.1,273.8 208.7,263.3 209.4,274.3 210,263.7 210.7,274.2 211.3,261.3 212,260.2 212.6,260.2 213.3,260.2" fill="none" stroke="#0000ff" stroke-width="0.7" stroke-linejoin="round"/>
<polyline points="48.8,255 60.6,255 62,247 63.6,244 65,243.6 67,246.4 69,247 71,247.6 73,248.4 75,251 76.4,254 81,254 82.4,256.4 86,258 89,259 93,258 94.6,255 96.4,253 98,255 99.2,259 100.4,263 105,264 106.6,263.6 108,265 118,266.4 128,268.4 130,269.6 131,269 131,269.6 133,268.4 134.6,268 135.6,261 137,260 140,259.6 141,256 142,253 144,251 150,249.6 157,248 159,246 160,245 161,249 162,253 162.6,257.6 167.6,257.6 168.4,250 169.6,246 171,248 173,247 174,245.6 175.6,248.4 177,247 178.4,251 180,249.6 184,247.6 187,248.4 189,247.6 190.6,250 191.6,255 197,255 198,262 199,265 202,267 205,268.4 208,269 209.6,266 210.6,258 211.4,255 213.4,255" fill="none" stroke="#ff0000" stroke-width="1.7" stroke-linejoin="round"/>
</g>
<path d="M48.6 277.4v1.8M104.2 277.4v1.8M159.8 277.4v1.8M215.4 277.4v1.8M40.5 240.8h-1.8M40.5 257.7h-1.8M40.5 274.7h-1.8" stroke="#222" stroke-width="0.5" fill="none"/>
<path d="M62.5 277.4v1M76.4 277.4v1M90.3 277.4v1M118.1 277.4v1M132 277.4v1M145.9 277.4v1M173.7 277.4v1M187.6 277.4v1M201.5 277.4v1M40.5 244.2h-1M40.5 247.6h-1M40.5 250.9h-1M40.5 254.3h-1M40.5 261.1h-1M40.5 264.5h-1M40.5 267.8h-1M40.5 271.2h-1" stroke="#444" stroke-width="0.4" fill="none"/>
<rect x="40.5" y="239.6" width="180.7" height="37.8" fill="none" stroke="#222" stroke-width="0.55"/>
<text x="36.1" y="244" text-anchor="end" class="tk">5</text>
<text x="36.1" y="260.9" text-anchor="end" class="tk">0</text>
<text x="36.1" y="277.9" text-anchor="end" class="tk">−5</text>
<text transform="translate(16.9,258.5) rotate(-90)" text-anchor="middle" class="yl"><tspan class="tau">τ</tspan><tspan class="sub" dy="1.6">6</tspan><tspan dy="-1.6"> [Nm]</tspan></text>
<text x="48.6" y="287.6" text-anchor="middle" class="tk">0</text>
<text x="104.2" y="287.6" text-anchor="middle" class="tk">20</text>
<text x="159.8" y="287.6" text-anchor="middle" class="tk">40</text>
<text x="215.4" y="287.6" text-anchor="middle" class="tk">60</text>
<text x="131.1" y="298.6" text-anchor="middle" class="sf" textLength="27.8" lengthAdjust="spacingAndGlyphs">Time [s]</text>
<path d="M58.1 309.4H76.8" stroke="#0000ff" stroke-width="1.1"/>
<text x="83.5" y="313.1" class="sf" textLength="32.8" lengthAdjust="spacingAndGlyphs">Measured</text>
<path d="M136.4 309.4H154.7" stroke="#ff0000" stroke-width="1.1"/>
<text x="161.4" y="313.1" class="sf" textLength="35.5" lengthAdjust="spacingAndGlyphs">Prediction</text>
<clipPath id="c7"><rect x="357.6" y="7.4" width="186.6" height="39.4"/></clipPath>
<path d="M380.7 7.4V46.8M395 7.4V46.8M409.4 7.4V46.8M438 7.4V46.8M452.3 7.4V46.8M466.7 7.4V46.8M495.3 7.4V46.8M509.6 7.4V46.8M524 7.4V46.8M357.6 13.3H544.2M357.6 16.6H544.2M357.6 19.8H544.2M357.6 23.1H544.2M357.6 29.7H544.2M357.6 33H544.2M357.6 36.2H544.2M357.6 39.5H544.2M357.6 46.1H544.2" stroke="#b8b8b8" stroke-width="0.5" fill="none"/>
<path d="M366.4 7.4V46.8M423.7 7.4V46.8M481.1 7.4V46.8M538.5 7.4V46.8M357.6 10H544.2M357.6 26.4H544.2M357.6 43.3H544.2" stroke="#707070" stroke-width="0.6" fill="none"/>
<g clip-path="url(#c7)">
<polygon points="366.4,23.4 378.2,23.4 378.8,32.5 379.6,34 381.6,33.4 383,28.3 384,32.3 393,32.4 393.6,29.4 394.4,26.8 395.2,28.4 399.6,28.4 400.2,18.3 400.8,9.4 401.6,12.4 412,12.4 413,26.4 414,25.4 415.6,22 417,25.4 418,28.3 419,31.4 425.6,31.4 426,32.5 426.8,31.4 448,31.4 449.2,26.3 450,21.9 450.4,21.4 451.6,30.4 452.8,33.4 454,32 455,30.4 455.6,26.8 459.6,26.8 460.4,19.4 461,13.3 462,24.4 463,34 465,29.4 466.4,32.6 468,28.6 469.6,32 471.6,29.2 473.6,32.6 475.6,29.6 478,32.6 481,28.6 484,27.6 489,27.2 489.6,15.3 495.6,15.3 496.6,12.3 497.6,9.9 498.8,14.3 500,16.3 513,16.3 514.4,21.6 518.4,22 519.6,32.4 520.4,33.4 527,33.4 528,42 528.6,36.4 530,33.4 533,28.8 535.4,29.4 535.4,30.6 533,30 530,34.6 528.6,38.6 528,44 527,37.6 520.4,37.6 519.6,34.6 518.4,23.2 514.4,22.8 513,19.7 500,19.7 498.8,16.6 497.6,12.1 496.6,14.7 495.6,18.7 489.6,18.7 489,28.4 484,28.8 481,29.8 478,33.8 475.6,30.8 473.6,33.8 471.6,30.4 469.6,33.2 468,29.8 466.4,33.8 465,30.6 463,35.2 462,26.6 461,15.7 460.4,21.6 459.6,28 455.6,28 455,31.6 454,33.2 452.8,35.6 451.6,32.6 450.4,23.6 450,24.7 449.2,29.7 448,35.6 426.8,35.6 426,37.9 425.6,35.6 419,35.6 418,31.7 417,27.2 415.6,24 414,27.2 413,28.6 412,16 401.6,16 400.8,13.6 400.2,21.7 399.6,30 395.2,30 394.4,28.6 393.6,31.6 393,36.6 384,35.7 383,31.7 381.6,37.6 379.6,38 378.8,37.5 378.2,24.6 366.4,24.6" fill="#0000ff" stroke="#0000ff" stroke-width="0.4" stroke-linejoin="round"/>
<polyline points="366.4,24 378.2,24 378.8,35 379.6,36 381.6,35.5 383,30 384,34 393,34.5 393.6,30.5 394.4,27.7 395.2,29.2 399.6,29.2 400.2,20 400.8,11.5 401.6,14.2 412,14.2 413,27.5 414,26.3 415.6,23 417,26.3 418,30 419,33.5 425.6,33.5 426,35.2 426.8,33.5 448,33.5 449.2,28 450,23.3 450.4,22.5 451.6,31.5 452.8,34.5 454,32.6 455,31 455.6,27.4 459.6,27.4 460.4,20.5 461,14.5 462,25.5 463,34.6 465,30 466.4,33.2 468,29.2 469.6,32.6 471.6,29.8 473.6,33.2 475.6,30.2 478,33.2 481,29.2 484,28.2 489,27.8 489.6,17 495.6,17 496.6,13.5 497.6,11 498.8,15.5 500,18 513,18 514.4,22.2 518.4,22.6 519.6,33.5 520.4,35.5 527,35.5 528,43 528.6,37.5 530,34 533,29.4 535.4,30" fill="none" stroke="#0000ff" stroke-width="1.7" stroke-linejoin="round"/>
<polyline points="366.4,24 367,24 367.7,24 368.3,24 369,24 369.6,24 370.3,24 370.9,24 371.6,24 372.2,24 372.9,24 373.5,24 374.2,24 374.8,24 375.5,24 376.1,24 376.8,24 377.4,24 378.1,24 378.7,36.7 379.4,33.3 380,38 380.7,33.6 381.3,37.8 382,31.4 382.6,33.3 383.3,29.1 383.9,35.8 384.6,32.1 385.2,36 385.9,32.3 386.5,36.2 387.2,32 387.8,36.4 388.5,32.2 389.1,36.4 389.8,31.9 390.4,36.5 391.1,32 391.7,36.5 392.4,31.8 393,36.4 393.7,30.2 394.3,27.9 395,28.8 395.6,29.2 396.3,29.2 396.9,29.2 397.6,29.2 398.2,29.2 398.9,29.2 399.5,29.2 400.2,18 400.8,13.8 401.5,11.6 402.1,16.1 402.8,12 403.4,16.1 404.1,12 404.7,16.1 405.4,11.8 406,16.6 406.7,11.8 407.3,16.3 408,12.2 408.6,16.4 409.3,12 409.9,16.2 410.6,12.3 411.2,16.5 411.9,12.3 412.5,23.1 413.2,27.3 413.8,26.5 414.5,25.3 415.1,23.9 415.8,23.5 416.4,25 417.1,26.7 417.7,30.7 418.4,29.2 419,36.2 419.7,31 420.3,36.1 421,31.3 421.6,36 422.3,31.1 422.9,36.2 423.6,31.2 424.2,35.8 424.9,31.1 425.5,35.7 426.2,31.9 426.8,36 427.5,30.8 428.1,35.7 428.8,31 429.4,35.8 430.1,31 430.7,35.8 431.4,31 432,35.7 432.7,30.9 433.3,36 434,31.1 434.6,35.7 435.3,31.3 435.9,36 436.6,31.3 437.2,35.7 437.9,30.9 438.5,36 439.2,30.8 439.8,35.7 440.5,30.8 441.1,35.8 441.8,30.8 442.4,35.7 443.1,30.9 443.7,36 444.4,30.9 445,36.2 445.7,31 446.3,36 447,30.9 447.6,36.1 448.3,29.7 448.9,31.4 449.6,23.8 450.2,24.5 450.9,26.2 451.5,31.1 452.2,33 452.8,34.4 453.5,33.4 454.1,32.4 454.8,31.3 455.4,28.3 456.1,27.4 456.7,27.4 457.4,27.4 458,27.4 458.7,27.4 459.3,27.4 460,24 460.6,18 461.3,17.8 461.9,24.9 462.6,31 463.2,34 463.9,32.5 464.5,31 465.2,30.5 465.8,31.9 466.5,33 467.1,31.3 467.8,29.7 468.4,30.2 469.1,31.5 469.7,32.4 470.4,31.5 471,30.6 471.7,30 472.3,31.1 473,32.2 473.6,33.1 474.3,32.2 474.9,31.2 475.6,30.2 476.2,31 476.9,31.8 477.5,32.6 478.2,32.9 478.8,32.1 479.5,31.2 480.1,30.3 480.8,29.5 481.4,29.1 482.1,28.8 482.7,28.6 483.4,28.4 484,28.2 484.7,28.1 485.3,28.1 486,28 486.6,28 487.3,27.9 487.9,27.9 488.6,27.8 489.2,23.3 489.9,15.2 490.5,19 491.2,15 491.8,18.8 492.5,14.8 493.1,18.8 493.8,15.1 494.4,18.8 495.1,15.3 495.7,18.1 496.4,12.6 497,12.4 497.7,11.4 498.3,13.8 499,14.5 499.6,19.1 500.3,15.9 500.9,20.2 501.6,16.2 502.2,20.1 502.9,15.8 503.5,20.1 504.2,15.9 504.8,20 505.5,16.2 506.1,19.8 506.8,15.9 507.4,20 508.1,15.9 508.7,20.2 509.4,16.2 510,19.8 510.7,16.2 511.3,19.7 512,16 512.6,19.8 513.3,17.2 513.9,20.8 514.6,22.2 515.2,22.3 515.9,22.3 516.5,22.4 517.2,22.5 517.8,22.5 518.5,23.5 519.1,29.4 519.8,32.1 520.4,38 521.1,33.1 521.7,38.1 522.4,33.3 523,37.9 523.7,32.9 524.3,38 525,33 525.6,37.7 526.3,33.1 526.9,37.9 527.6,38.1 528.2,40.7 528.9,36.8 529.5,35.1 530.2,33.7 530.8,32.7 531.5,31.7 532.1,30.7 532.8,29.7 533.4,29.5 534.1,29.7 534.7,29.8 535.4,30" fill="none" stroke="#0000ff" stroke-width="0.7" stroke-linejoin="round"/>
<polyline points="366.4,27.6 378.4,27.6 379.2,37.6 381,35.6 383,31 384,35 386,34 393,32 394,29.6 399.6,29 400.6,15 412,15 413.2,26 415,26.4 416,24 417.6,27 419,33 426,34.4 448,34 450,30 450.4,29 451.6,32 454,33 455,30 456,27 459.6,27 461,15 462,19 463.6,21 468,20.4 472,20.6 476,22 480,24.4 483,27 485,28 489,27.6 490,16 495.6,16 497.6,13 499.6,16.4 513,16.4 514.4,22 518.4,23 520,33 526,35 528,39 530,34 533,28 535.4,28" fill="none" stroke="#ff0000" stroke-width="2.1" stroke-linejoin="round"/>
</g>
<path d="M366.4 46.8v1.8M423.7 46.8v1.8M481.1 46.8v1.8M538.5 46.8v1.8M357.6 10h-1.8M357.6 26.4h-1.8M357.6 43.3h-1.8" stroke="#222" stroke-width="0.5" fill="none"/>
<path d="M380.7 46.8v1M395 46.8v1M409.4 46.8v1M438 46.8v1M452.3 46.8v1M466.7 46.8v1M495.3 46.8v1M509.6 46.8v1M524 46.8v1M357.6 13.3h-1M357.6 16.6h-1M357.6 19.8h-1M357.6 23.1h-1M357.6 29.7h-1M357.6 33h-1M357.6 36.2h-1M357.6 39.5h-1M357.6 46.1h-1" stroke="#444" stroke-width="0.4" fill="none"/>
<rect x="357.6" y="7.4" width="186.6" height="39.4" fill="none" stroke="#222" stroke-width="0.55"/>
<text x="353.9" y="13.2" text-anchor="end" class="tk">25</text>
<text x="353.9" y="29.6" text-anchor="end" class="tk">0</text>
<text x="353.9" y="46.5" text-anchor="end" class="tk">−25</text>
<text transform="translate(333.4,27.1) rotate(-90)" text-anchor="middle" class="yl"><tspan class="tau">τ</tspan><tspan class="sub" dy="1.6">1</tspan><tspan dy="-1.6"> [Nm]</tspan></text>
<clipPath id="c8"><rect x="357.6" y="55" width="186.6" height="39.5"/></clipPath>
<path d="M380.7 55V94.5M395 55V94.5M409.4 55V94.5M438 55V94.5M452.3 55V94.5M466.7 55V94.5M495.3 55V94.5M509.6 55V94.5M524 55V94.5M357.6 58.2H544.2M357.6 61.5H544.2M357.6 64.9H544.2M357.6 68.2H544.2M357.6 74.8H544.2M357.6 78.1H544.2M357.6 81.5H544.2M357.6 84.8H544.2M357.6 91.4H544.2" stroke="#b8b8b8" stroke-width="0.5" fill="none"/>
<path d="M366.4 55V94.5M423.7 55V94.5M481.1 55V94.5M538.5 55V94.5M357.6 71.5H544.2M357.6 88.1H544.2" stroke="#707070" stroke-width="0.6" fill="none"/>
<g clip-path="url(#c8)">
<polyline points="366.4,62 378.4,62 379.2,57.6 381,63 383,73 384.4,61 385.6,69 394,84.4 395,83 399,83 400.6,89.6 403,85.6 410,78 413,73.6 415,82 416.4,71 418,77 419.6,78 423,76 425,78 426.4,73.6 450,66.8 454,65.6 456,63.6 461,63 462,59 464,61 479,75 480.4,80 481.6,75 483.6,81 488.4,80.4 490,84.4 494,82.4 495.6,84 497.6,92.4 499.6,80 510,77 511.6,79 514,74 519,74 521,77.6 524,73 526,71 527.6,70 528.4,77 529.4,68 532,64.4 535.4,63.6" fill="none" stroke="#0000ff" stroke-width="2.0" stroke-linejoin="round"/>
<polyline points="366.4,61.6 378.4,61.6 379.2,57.6 381,62.4 383,71 384.4,66 385.6,69 394,83 399,82 400.6,87.6 403,84.4 410,77.6 413,73 415,79 416.4,71.6 418,76 423,75 425,77 426.4,74 450,66.8 454,65 456,61.6 461,61.6 462,57 464,60.4 479,74 480.4,78 481.6,76 483.6,80.4 488.4,80 490,84 494,82 495.6,83 497.6,90 499.6,78.4 510,76 511.6,78 514,74 519,73.6 521,77 524,72.4 527.6,69 528.4,72 529.4,67.6 532,62 535.4,61.6" fill="none" stroke="#ff0000" stroke-width="1.7" stroke-linejoin="round"/>
</g>
<path d="M366.4 94.5v1.8M423.7 94.5v1.8M481.1 94.5v1.8M538.5 94.5v1.8M357.6 71.5h-1.8M357.6 88.1h-1.8" stroke="#222" stroke-width="0.5" fill="none"/>
<path d="M380.7 94.5v1M395 94.5v1M409.4 94.5v1M438 94.5v1M452.3 94.5v1M466.7 94.5v1M495.3 94.5v1M509.6 94.5v1M524 94.5v1M357.6 58.2h-1M357.6 61.5h-1M357.6 64.9h-1M357.6 68.2h-1M357.6 74.8h-1M357.6 78.1h-1M357.6 81.5h-1M357.6 84.8h-1M357.6 91.4h-1" stroke="#444" stroke-width="0.4" fill="none"/>
<rect x="357.6" y="55" width="186.6" height="39.5" fill="none" stroke="#222" stroke-width="0.55"/>
<text x="353.9" y="74.7" text-anchor="end" class="tk">0</text>
<text x="353.9" y="91.3" text-anchor="end" class="tk">−50</text>
<text transform="translate(333.4,74.8) rotate(-90)" text-anchor="middle" class="yl"><tspan class="tau">τ</tspan><tspan class="sub" dy="1.6">2</tspan><tspan dy="-1.6"> [Nm]</tspan></text>
<clipPath id="c9"><rect x="357.6" y="102.6" width="186.6" height="39.7"/></clipPath>
<path d="M380.7 102.6V142.3M395 102.6V142.3M409.4 102.6V142.3M438 102.6V142.3M452.3 102.6V142.3M466.7 102.6V142.3M495.3 102.6V142.3M509.6 102.6V142.3M524 102.6V142.3M357.6 105.3H544.2M357.6 108.4H544.2M357.6 111.4H544.2M357.6 117.4H544.2M357.6 120.4H544.2M357.6 123.5H544.2M357.6 126.5H544.2M357.6 132.5H544.2M357.6 135.5H544.2M357.6 138.6H544.2M357.6 141.6H544.2" stroke="#b8b8b8" stroke-width="0.5" fill="none"/>
<path d="M366.4 102.6V142.3M423.7 102.6V142.3M481.1 102.6V142.3M538.5 102.6V142.3M357.6 114.4H544.2M357.6 129.5H544.2" stroke="#707070" stroke-width="0.6" fill="none"/>
<g clip-path="url(#c9)">
<polyline points="366.4,109 378.4,109 379.2,104.4 381,108 383.4,118 384.6,107 386,112 394,126 394.6,130 395.2,127.4 400,127.6 401.4,137 404,131 411,124 413,121 414,118 415.6,132 417,118 419,114 423,113 425,119 426.4,113 434,111.6 448,110.4 449.6,105.6 450,106.4 452,109 458,111.6 460.4,112.4 461.6,108.4 463,116 466,117 472,116.4 476,118 479,122 480.4,130 481.6,121.6 484,124 489,125 490,132 492,129 495.6,129 497.6,140.4 499.6,125 506,123 512,121 514,117.6 519,118 521,121.6 525,118.4 527,119 528,130.4 529,119 532,117 535.4,115.6" fill="none" stroke="#0000ff" stroke-width="2.0" stroke-linejoin="round"/>
<polyline points="366.4,112 378.4,112 379.2,107 380,106 381,108 383,116 384.4,107 386,113 394,128 394.6,135 395.4,130 400,130 401.4,138 404,132 411,125 412.6,122 413.2,115.6 414.4,124 415.6,130 417,117 419,113.6 423,112.4 425,118 426.4,113 434,112.4 448,111.6 449.6,113 450,112.8 452,112 455,114 456,112 460,113 462,111 466,111 471,113 475,116 478,119 480,125 481.2,129 482.4,125 485,126 489,126 490,133 492,131 495.6,130.4 497.6,137 499.6,127 502,126 506,124 512,122.4 514,118 519,117.6 521,119.6 525,118 527,119 528,126 529,118 532,112.4 535.4,111.6" fill="none" stroke="#ff0000" stroke-width="1.7" stroke-linejoin="round"/>
</g>
<path d="M366.4 142.3v1.8M423.7 142.3v1.8M481.1 142.3v1.8M538.5 142.3v1.8M357.6 114.4h-1.8M357.6 129.5h-1.8" stroke="#222" stroke-width="0.5" fill="none"/>
<path d="M380.7 142.3v1M395 142.3v1M409.4 142.3v1M438 142.3v1M452.3 142.3v1M466.7 142.3v1M495.3 142.3v1M509.6 142.3v1M524 142.3v1M357.6 105.3h-1M357.6 108.4h-1M357.6 111.4h-1M357.6 117.4h-1M357.6 120.4h-1M357.6 123.5h-1M357.6 126.5h-1M357.6 132.5h-1M357.6 135.5h-1M357.6 138.6h-1M357.6 141.6h-1" stroke="#444" stroke-width="0.4" fill="none"/>
<rect x="357.6" y="102.6" width="186.6" height="39.7" fill="none" stroke="#222" stroke-width="0.55"/>
<text x="353.9" y="117.6" text-anchor="end" class="tk">25</text>
<text x="353.9" y="132.7" text-anchor="end" class="tk">0</text>
<text transform="translate(333.4,122.5) rotate(-90)" text-anchor="middle" class="yl"><tspan class="tau">τ</tspan><tspan class="sub" dy="1.6">3</tspan><tspan dy="-1.6"> [Nm]</tspan></text>
<clipPath id="c10"><rect x="357.6" y="150.3" width="186.6" height="39.5"/></clipPath>
<path d="M380.7 150.3V189.8M395 150.3V189.8M409.4 150.3V189.8M438 150.3V189.8M452.3 150.3V189.8M466.7 150.3V189.8M495.3 150.3V189.8M509.6 150.3V189.8M524 150.3V189.8M357.6 150.6H544.2M357.6 152.9H544.2M357.6 155.1H544.2M357.6 159.7H544.2M357.6 161.9H544.2M357.6 164.2H544.2M357.6 166.4H544.2M357.6 171H544.2M357.6 173.2H544.2M357.6 175.5H544.2M357.6 177.7H544.2M357.6 182.3H544.2M357.6 184.5H544.2M357.6 186.8H544.2M357.6 189H544.2" stroke="#b8b8b8" stroke-width="0.5" fill="none"/>
<path d="M366.4 150.3V189.8M423.7 150.3V189.8M481.1 150.3V189.8M538.5 150.3V189.8M357.6 157.4H544.2M357.6 168.7H544.2M357.6 180H544.2" stroke="#707070" stroke-width="0.6" fill="none"/>
<g clip-path="url(#c10)">
<polygon points="366.4,164.6 378.2,164.6 378.6,154 382,154 382.4,161.6 383.4,161.6 383.8,155 386,156.9 390,161.7 394,169.4 394.6,173 399.8,173 400.2,165.1 406,163.8 412,162.7 413.2,169.9 414.6,171.3 415.4,173.3 416.2,167.5 417.8,167.5 418.4,171.8 425.6,171.8 426.4,170.4 440,166.8 450,164.8 455,163.8 456,163.9 461,163.9 461.6,158.6 462.4,152.6 472,156.7 480,161.7 483,164.4 484,168.3 485,169.3 489.6,169.3 490.2,176.6 491,173.7 496,173.7 496.6,177.7 498,179.7 499,173.6 499.6,170.7 506,167.7 513,164.4 514,165.7 520,165.7 520.4,154.5 525,154.5 525.4,160.4 526.2,160.4 526.6,154.4 527.6,154.6 528,159 528.6,154.5 532,154.4 532.6,165 536,165 536,166.2 532.6,166.2 532,163.2 528.6,164.1 528,170 527.6,165 526.6,163.2 526.2,164 525.4,164 525,164.1 520.4,164.1 520,166.9 514,166.9 513,172.2 506,175.3 499.6,178.3 499,180.4 498,187.3 496.6,185.3 496,181.3 491,181.3 490.2,183 489.6,170.7 485,170.7 484,171.3 483,172.2 480,169.3 472,164.3 462.4,159.4 461.6,164.4 461,165.7 456,165.7 455,172.8 450,173.6 440,175.2 426.4,178.2 425.6,180.8 418.4,180.8 417.8,172.5 416.2,172.5 415.4,175.7 414.6,173.7 413.2,171.7 412,170.3 406,172.2 400.2,172.9 399.8,174.2 394.6,174.2 394,173.6 390,168.9 386,166.1 383.8,165 383.4,168.4 382.4,168.4 382,164 378.6,164 378.2,165.8 366.4,165.8" fill="#0000ff" stroke="#0000ff" stroke-width="0.4" stroke-linejoin="round"/>
<polyline points="366.4,165.2 378.2,165.2 378.6,159 382,159 382.4,165 383.4,165 383.8,160 386,161.5 390,165.3 394,171.5 394.6,173.6 399.8,173.6 400.2,169 406,168 412,166.5 413.2,170.8 414.6,172.5 415.4,174.5 416.2,170 417.8,170 418.4,176.3 425.6,176.3 426.4,174.3 440,171 450,169.2 455,168.3 456,164.8 461,164.8 461.6,161.5 462.4,156 472,160.5 480,165.5 483,168.3 484,169.8 485,170 489.6,170 490.2,179.8 491,177.5 496,177.5 496.6,181.5 498,183.5 499,177 499.6,174.5 506,171.5 513,168.3 514,166.3 520,166.3 520.4,159.3 525,159.3 525.4,162.2 526.2,162.2 526.6,158.8 527.6,159.8 528,164.5 528.6,159.3 532,158.8 532.6,165.6 536,165.6" fill="none" stroke="#0000ff" stroke-width="1.7" stroke-linejoin="round"/>
<polyline points="366.4,165.2 367,165.2 367.7,165.2 368.3,165.2 369,165.2 369.6,165.2 370.3,165.2 370.9,165.2 371.6,165.2 372.2,165.2 372.9,165.2 373.5,165.2 374.2,165.2 374.8,165.2 375.5,165.2 376.1,165.2 376.8,165.2 377.4,165.2 378.1,165.2 378.7,164.7 379.4,153 380,165.5 380.7,152.5 381.3,165 382,153.4 382.6,169.1 383.3,160.6 383.9,166.5 384.6,154.9 385.2,167.1 385.9,156.5 386.5,167.2 387.2,158.1 387.8,168.4 388.5,158.8 389.1,169.3 389.8,160.9 390.4,170.2 391.1,163.2 391.7,171.2 392.4,165.6 393,172.8 393.7,168.2 394.3,174.2 395,173.6 395.6,173.6 396.3,173.6 396.9,173.6 397.6,173.6 398.2,173.6 398.9,173.6 399.5,173.6 400.2,164 400.8,173.2 401.5,163.7 402.1,172.8 402.8,163.8 403.4,172.7 404.1,163.2 404.7,172.9 405.4,162.7 406,172.3 406.7,162.7 407.3,172 408,162.3 408.6,171.5 409.3,162 409.9,171.1 410.6,162.2 411.2,170.9 411.9,162 412.5,171.7 413.2,170.8 413.8,171.6 414.5,172.4 415.1,173.9 415.8,169.9 416.4,172.7 417.1,166.7 417.7,172.9 418.4,171.5 419,181.6 419.7,170.8 420.3,181.3 421,171.7 421.6,181.1 422.3,171.7 422.9,181.1 423.6,171 424.2,181.3 424.9,171.3 425.5,181.5 426.2,170.4 426.8,178.8 427.5,169.5 428.1,179.1 428.8,168.8 429.4,178.1 430.1,169.2 430.7,178.4 431.4,168.7 432,177.1 432.7,167.8 433.3,177.9 434,167.2 434.6,176.9 435.3,166.8 435.9,177.4 436.6,167.5 437.2,176.6 437.9,166.5 438.5,176.4 439.2,166.8 439.8,175.8 440.5,165.8 441.1,176.3 441.8,165.9 442.4,175.2 443.1,165.7 443.7,175.6 444.4,164.8 445,175.5 445.7,165.3 446.3,174.9 447,165.1 447.6,175 448.3,164.7 448.9,174.5 449.6,164.2 450.2,174.7 450.9,163.7 451.5,174.2 452.2,163.2 452.8,173.4 453.5,163.9 454.1,174.3 454.8,163.6 455.4,170.2 456.1,164.8 456.7,164.8 457.4,164.8 458,164.8 458.7,164.8 459.3,164.8 460,164.8 460.6,164.8 461.3,160.9 461.9,162.8 462.6,152.3 463.2,160.5 463.9,152.6 464.5,161.3 465.2,153.1 465.8,161.8 466.5,153.9 467.1,162.2 467.8,153.9 468.4,162.6 469.1,155.4 469.7,164 470.4,155.2 471,164.7 471.7,156.3 472.3,165.2 473,156.8 473.6,166.4 474.3,157.4 474.9,166.2 475.6,158.6 476.2,167.1 476.9,158.8 477.5,168.5 478.2,160.3 478.8,168.8 479.5,160.4 480.1,169.7 480.8,162 481.4,171.9 482.1,162.6 482.7,172.9 483.4,165.5 484,171.6 484.7,169.9 485.3,170 486,170 486.6,170 487.3,170 487.9,170 488.6,170 489.2,170 489.9,172.4 490.5,182.9 491.2,172.6 491.8,181.7 492.5,172.7 493.1,182 493.8,173.5 494.4,182.3 495.1,173 495.7,182.2 496.4,176.3 497,186.6 497.7,178.8 498.3,185 499,172.7 499.6,179 500.3,170.2 500.9,177.9 501.6,169.1 502.2,177.2 502.9,168.1 503.5,176.9 504.2,168.1 504.8,176 505.5,167.1 506.1,175.3 506.8,166.4 507.4,175.3 508.1,166 508.7,174.6 509.4,165.8 510,174.7 510.7,164.7 511.3,174 512,164.2 512.6,172.8 513.3,163.9 513.9,166.4 514.6,166.3 515.2,166.3 515.9,166.3 516.5,166.3 517.2,166.3 517.8,166.3 518.5,166.3 519.1,166.3 519.8,166.3 520.4,164.5 521.1,153.4 521.7,164.3 522.4,153.7 523,165.6 523.7,153.8 524.3,164.3 525,153.7 525.6,164.5 526.3,158.5 526.9,163.9 527.6,153.5 528.2,168.6 528.9,153.3 529.5,164.3 530.2,153.9 530.8,163.9 531.5,153.5 532.1,165 532.8,165.6 533.4,165.6 534.1,165.6 534.7,165.6 535.4,165.6" fill="none" stroke="#0000ff" stroke-width="0.7" stroke-linejoin="round"/>
<polyline points="366.4,165.6 378.4,165.6 380,158.4 382,159 383.2,166 384.4,158.4 387,161.6 394,172 395,174 399,174 400.4,176 402,177 406,173 411,169 413,167 414.4,171 415.6,174 417,167.6 418.4,167 420,171.6 423,173 425,171 426,176 427,171 434,170.4 444,168.4 450,167.2 455,166.4 457,164.4 461,164 462.4,156.4 464,158 472,161 480,164.4 482.4,166 483.6,170 484.6,173 489.6,173 490.4,179 492,180 495.6,181 497,183 498.4,180 499.6,176 502,176 506,174 512,172.4 513,171 514,167 520,166.4 522,164 525,162 528,161 531,160.4 532,163 533,165.6 536,165.6" fill="none" stroke="#ff0000" stroke-width="1.7" stroke-linejoin="round"/>
</g>
<path d="M366.4 189.8v1.8M423.7 189.8v1.8M481.1 189.8v1.8M538.5 189.8v1.8M357.6 157.4h-1.8M357.6 168.7h-1.8M357.6 180h-1.8" stroke="#222" stroke-width="0.5" fill="none"/>
<path d="M380.7 189.8v1M395 189.8v1M409.4 189.8v1M438 189.8v1M452.3 189.8v1M466.7 189.8v1M495.3 189.8v1M509.6 189.8v1M524 189.8v1M357.6 150.6h-1M357.6 152.9h-1M357.6 155.1h-1M357.6 159.7h-1M357.6 161.9h-1M357.6 164.2h-1M357.6 166.4h-1M357.6 171h-1M357.6 173.2h-1M357.6 175.5h-1M357.6 177.7h-1M357.6 182.3h-1M357.6 184.5h-1M357.6 186.8h-1M357.6 189h-1" stroke="#444" stroke-width="0.4" fill="none"/>
<rect x="357.6" y="150.3" width="186.6" height="39.5" fill="none" stroke="#222" stroke-width="0.55"/>
<text x="353.9" y="160.6" text-anchor="end" class="tk">5</text>
<text x="353.9" y="171.9" text-anchor="end" class="tk">0</text>
<text x="353.9" y="183.2" text-anchor="end" class="tk">−5</text>
<text transform="translate(333.4,170.1) rotate(-90)" text-anchor="middle" class="yl"><tspan class="tau">τ</tspan><tspan class="sub" dy="1.6">4</tspan><tspan dy="-1.6"> [Nm]</tspan></text>
<clipPath id="c11"><rect x="357.6" y="197.8" width="186.6" height="39.6"/></clipPath>
<path d="M380.7 197.8V237.4M395 197.8V237.4M409.4 197.8V237.4M438 197.8V237.4M452.3 197.8V237.4M466.7 197.8V237.4M495.3 197.8V237.4M509.6 197.8V237.4M524 197.8V237.4M357.6 200.8H544.2M357.6 207.2H544.2M357.6 210.4H544.2M357.6 213.6H544.2M357.6 216.8H544.2M357.6 223.2H544.2M357.6 226.4H544.2M357.6 229.6H544.2M357.6 232.8H544.2" stroke="#b8b8b8" stroke-width="0.5" fill="none"/>
<path d="M366.4 197.8V237.4M423.7 197.8V237.4M481.1 197.8V237.4M538.5 197.8V237.4M357.6 204H544.2M357.6 220H544.2M357.6 235.9H544.2" stroke="#707070" stroke-width="0.6" fill="none"/>
<g clip-path="url(#c11)">
<polygon points="366.4,214.3 378.2,214.3 378.6,220 382,220 382.6,219 384,219.4 385,221.8 393,219.8 394,219.8 394.6,219.3 399.8,219.3 400.2,207.4 413,207.4 413.4,217.3 415,216.7 417.6,216.3 418.4,218.5 419.2,219.9 425.2,219.9 425.6,218 426.2,220 448,220 448.8,222.2 450,222.1 451.6,221 455.4,220 456,217.3 461,217.3 461.8,210.5 462.4,200.6 462.8,200.7 463.2,208.4 483,208.3 483.8,217.3 484.6,218.3 489.6,218.3 490.2,222.8 491,222.7 496,222.7 496.4,218.4 499.2,218.4 500,223.7 511.6,223.7 512.4,219.1 513.2,223.3 514,223.3 519,223.3 519.6,212.5 520.4,205.6 525,206.6 528,205.6 529.6,207.5 531,209.6 532.6,212.6 533.2,214.3 536,214.3 536,215.7 533.2,216.1 532.6,219 531,216.4 529.6,212.5 528,211.4 525,212.4 520.4,212.4 519.6,217.5 519,224.7 514,224.7 513.2,225.7 512.4,230.9 511.6,231.3 500,231.3 499.2,227.2 496.4,227.2 496,230.3 491,230.3 490.2,231.6 489.6,219.7 484.6,219.7 483.8,219.2 483,215.7 463.2,216.2 462.8,211.9 462.4,211 461.8,215.5 461,219.2 456,219.2 455.4,230 451.6,232 450,233.9 448.8,234.4 448,231 426.2,231 425.6,229 425.2,229.1 419.2,229.1 418.4,223.5 417.6,219.7 415,220.1 413.4,220.7 413,218 400.2,218 399.8,221.7 394.6,221.7 394,228.2 393,228.8 385,230.8 384,229.4 382.6,229 382,231 378.6,231 378.2,216.1 366.4,216.1" fill="#0000ff" stroke="#0000ff" stroke-width="0.4" stroke-linejoin="round"/>
<polyline points="366.4,215.2 378.2,215.2 378.6,225.5 382,225.5 382.6,224 384,224.4 385,226.3 393,224.3 394,224 394.6,220.5 399.8,220.5 400.2,212.7 413,212.7 413.4,219 415,218.4 417.6,218 418.4,221 419.2,224.5 425.2,224.5 425.6,223.5 426.2,225.5 448,225.5 448.8,228.3 450,228 451.6,226.5 455.4,225 456,218.3 461,218.3 461.8,213 462.4,205.8 462.8,206.3 463.2,212.3 483,212 483.8,218.3 484.6,219 489.6,219 490.2,227.2 491,226.5 496,226.5 496.4,222.8 499.2,222.8 500,227.5 511.6,227.5 512.4,225 513.2,224.5 514,224 519,224 519.6,215 520.4,209 525,209.5 528,208.5 529.6,210 531,213 532.6,215.8 533.2,215.2 536,215" fill="none" stroke="#0000ff" stroke-width="1.7" stroke-linejoin="round"/>
<polyline points="366.4,215.2 367,215.2 367.7,215.2 368.3,215.2 369,215.2 369.6,215.2 370.3,215.2 370.9,215.2 371.6,215.2 372.2,215.2 372.9,215.2 373.5,215.2 374.2,215.2 374.8,215.2 375.5,215.2 376.1,215.2 376.8,215.2 377.4,215.2 378.1,215.2 378.7,231.5 379.4,218.4 380,232 380.7,218.7 381.3,232.2 382,219.2 382.6,229.3 383.3,218.2 383.9,229.9 384.6,220.5 385.2,231.2 385.9,221 386.5,231.4 387.2,220.1 387.8,230.9 388.5,219.9 389.1,231 389.8,219.9 390.4,230.5 391.1,219.4 391.7,230.4 392.4,219.9 393,229.6 393.7,219.1 394.3,225.1 395,220.5 395.6,220.5 396.3,220.5 396.9,220.5 397.6,220.5 398.2,220.5 398.9,220.5 399.5,220.5 400.2,206.2 400.8,218.8 401.5,207.1 402.1,219.4 402.8,207.3 403.4,219.4 404.1,207.3 404.7,218.2 405.4,206.9 406,219.5 406.7,206.6 407.3,219.6 408,207.1 408.6,218.4 409.3,206.5 409.9,218.6 410.6,206.8 411.2,219 411.9,207.2 412.5,219.5 413.2,211.3 413.8,220.9 414.5,216.7 415.1,220.6 415.8,216.1 416.4,220.2 417.1,216.1 417.7,220.5 418.4,217.9 419,229.1 419.7,218.8 420.3,229.8 421,218.7 421.6,229.3 422.3,219.1 422.9,230.1 423.6,219.4 424.2,229.5 424.9,219.3 425.5,230.3 426.2,219 426.8,231.6 427.5,219 428.1,232.4 428.8,218.4 429.4,232.4 430.1,219.9 430.7,231.9 431.4,218.7 432,232.5 432.7,219.6 433.3,231.6 434,219.2 434.6,232.4 435.3,219.1 435.9,232.4 436.6,219.2 437.2,232.6 437.9,219.1 438.5,231.6 439.2,219.2 439.8,231.8 440.5,219.6 441.1,232.1 441.8,219.1 442.4,231.5 443.1,218.8 443.7,232 444.4,219.3 445,231.5 445.7,218.9 446.3,232.1 447,218.5 447.6,232.6 448.3,219.3 448.9,235.1 449.6,221.8 450.2,234.8 450.9,220.8 451.5,232.4 452.2,220.3 452.8,231.9 453.5,219.8 454.1,232.2 454.8,220 455.4,230.2 456.1,218.3 456.7,218.3 457.4,218.3 458,218.3 458.7,218.3 459.3,218.3 460,218.3 460.6,218.3 461.3,214.4 461.9,214.8 462.6,199.2 463.2,217.2 463.9,207.6 464.5,217.4 465.2,207.4 465.8,216.8 466.5,207.6 467.1,217 467.8,207.6 468.4,216.7 469.1,207.3 469.7,216.8 470.4,207.6 471,216.2 471.7,207.7 472.3,217.1 473,208.1 473.6,216.5 474.3,207.5 474.9,217 475.6,207.6 476.2,216.3 476.9,207.8 477.5,216.8 478.2,207.7 478.8,216.5 479.5,208 480.1,216.9 480.8,207.6 481.4,216.6 482.1,207.3 482.7,216.3 483.4,212.3 484,218.5 484.7,219 485.3,219 486,219 486.6,219 487.3,219 487.9,219 488.6,219 489.2,219 489.9,220.2 490.5,232.2 491.2,222.5 491.8,231.4 492.5,222.1 493.1,231.4 493.8,222.3 494.4,230.7 495.1,222.1 495.7,230.6 496.4,218.3 497,227.3 497.7,218.3 498.3,228.3 499,217.9 499.6,230.2 500.3,222.9 500.9,232.2 501.6,223.1 502.2,231.6 502.9,222.8 503.5,231.6 504.2,223.5 504.8,231.8 505.5,222.9 506.1,232.1 506.8,223.3 507.4,231.8 508.1,223.5 508.7,231.6 509.4,223.6 510,232.1 510.7,223.6 511.3,231.4 512,220.4 512.6,230.5 513.3,224.4 513.9,224 514.6,224 515.2,224 515.9,224 516.5,224 517.2,224 517.8,224 518.5,224 519.1,221.8 519.8,210.5 520.4,212.5 521.1,205.2 521.7,212.5 522.4,205.6 523,213.3 523.7,206.1 524.3,213 525,206.1 525.6,212.3 526.3,205.4 526.9,211.9 527.6,205.4 528.2,211.9 528.9,205.9 529.5,212.9 530.2,208 530.8,216.5 531.5,209.8 532.1,218.8 532.8,212.5 533.4,215.2 534.1,215.1 534.7,215.1 535.4,215" fill="none" stroke="#0000ff" stroke-width="0.7" stroke-linejoin="round"/>
<polyline points="366.4,216.4 378.4,216.4 379.6,222 381,227 383,229.6 385,231 387,230.4 389,228.4 391,225 393,220 394,214 399.6,214 400.4,209 401.6,211 404,215 407,217.6 411,219 413,219.6 414.4,217.6 416,219 417.6,218 419,220 422,221.6 425,221 426,219.6 427,223.6 434,224 448,224.4 450,227.6 452,225.6 454.4,225 455.4,220 456.4,219 459,219 460.4,224 461.4,222 462.4,215 464,215 472,213.6 478,210.4 480.4,208.4 482.4,209.6 483.6,219 489,219 490,224 493,225.6 495.6,224 497,223 498.4,225 499.6,229 504,230.4 510,231 512.4,231 513.6,221 519,220.4 520,214 521,208.4 524,209 528,208.4 530,210 532,213 533.4,215.6 536,216" fill="none" stroke="#ff0000" stroke-width="1.7" stroke-linejoin="round"/>
</g>
<path d="M366.4 237.4v1.8M423.7 237.4v1.8M481.1 237.4v1.8M538.5 237.4v1.8M357.6 204h-1.8M357.6 220h-1.8M357.6 235.9h-1.8" stroke="#222" stroke-width="0.5" fill="none"/>
<path d="M380.7 237.4v1M395 237.4v1M409.4 237.4v1M438 237.4v1M452.3 237.4v1M466.7 237.4v1M495.3 237.4v1M509.6 237.4v1M524 237.4v1M357.6 200.8h-1M357.6 207.2h-1M357.6 210.4h-1M357.6 213.6h-1M357.6 216.8h-1M357.6 223.2h-1M357.6 226.4h-1M357.6 229.6h-1M357.6 232.8h-1" stroke="#444" stroke-width="0.4" fill="none"/>
<rect x="357.6" y="197.8" width="186.6" height="39.6" fill="none" stroke="#222" stroke-width="0.55"/>
<text x="353.9" y="207.2" text-anchor="end" class="tk">5</text>
<text x="353.9" y="223.2" text-anchor="end" class="tk">0</text>
<text x="353.9" y="239.1" text-anchor="end" class="tk">−5</text>
<text transform="translate(333.4,217.6) rotate(-90)" text-anchor="middle" class="yl"><tspan class="tau">τ</tspan><tspan class="sub" dy="1.6">5</tspan><tspan dy="-1.6"> [Nm]</tspan></text>
<clipPath id="c12"><rect x="357.6" y="246.1" width="186.6" height="39.2"/></clipPath>
<path d="M380.7 246.1V285.3M395 246.1V285.3M409.4 246.1V285.3M438 246.1V285.3M452.3 246.1V285.3M466.7 246.1V285.3M495.3 246.1V285.3M509.6 246.1V285.3M524 246.1V285.3M357.6 250.3H544.2M357.6 253.8H544.2M357.6 257.3H544.2M357.6 260.8H544.2M357.6 267.8H544.2M357.6 271.3H544.2M357.6 274.8H544.2M357.6 278.3H544.2" stroke="#b8b8b8" stroke-width="0.5" fill="none"/>
<path d="M366.4 246.1V285.3M423.7 246.1V285.3M481.1 246.1V285.3M538.5 246.1V285.3M357.6 246.8H544.2M357.6 264.3H544.2M357.6 282H544.2" stroke="#707070" stroke-width="0.6" fill="none"/>
<g clip-path="url(#c12)">
<polygon points="366.4,258.8 378.2,258.8 378.6,248.3 379.2,250.7 393.6,250.7 394.2,266 399.8,266 400.2,250.9 412.8,250.9 413.4,261.3 415,260.7 417,260 418,261.4 418.6,266.6 419.2,269.2 419.8,269 450,269 455,269 455.6,264.8 456.4,266 461,266 461.6,258.7 462.4,249.8 483.6,250.3 484.2,262 489.6,262 490.2,249.6 513,250.1 513.6,263.4 519,263.4 519.6,268.5 520.4,271 521,271 533,271 533.6,267.2 536,267.1 536,268.3 533.6,268.4 533,281 521,281 520.4,282 519.6,273.5 519,264.6 513.6,264.6 513,261.9 490.2,261.8 489.6,263.2 484.2,263.6 483.6,264.3 462.4,264.2 461.6,266.3 461,267.6 456.4,267.6 455.6,266.6 455,280 450,280 419.8,280 419.2,281.8 418.6,273.4 418,265.6 417,263.6 415,264.1 413.4,264.7 412.8,265.1 400.2,265.1 399.8,267.2 394.2,267.2 393.6,261.9 379.2,261.9 378.6,261.7 378.2,260.6 366.4,260.6" fill="#0000ff" stroke="#0000ff" stroke-width="0.4" stroke-linejoin="round"/>
<polyline points="366.4,259.7 378.2,259.7 378.6,255 379.2,256.3 393.6,256.3 394.2,266.6 399.8,266.6 400.2,258 412.8,258 413.4,263 415,262.4 417,261.8 418,263.5 418.6,270 419.2,275.5 419.8,274.5 450,274.5 455,274.5 455.6,265.7 456.4,266.8 461,266.8 461.6,262.5 462.4,257 483.6,257.3 484.2,262.8 489.6,262.6 490.2,255.7 513,256 513.6,264 519,264 519.6,271 520.4,276.5 521,276 533,276 533.6,267.8 536,267.7" fill="none" stroke="#0000ff" stroke-width="1.7" stroke-linejoin="round"/>
<polyline points="366.4,259.7 367,259.7 367.7,259.7 368.3,259.7 369,259.7 369.6,259.7 370.3,259.7 370.9,259.7 371.6,259.7 372.2,259.7 372.9,259.7 373.5,259.7 374.2,259.7 374.8,259.7 375.5,259.7 376.1,259.7 376.8,259.7 377.4,259.7 378.1,259.7 378.7,263.1 379.4,249.5 380,262.4 380.7,249.6 381.3,262.1 382,249.2 382.6,262.5 383.3,250.3 383.9,262.7 384.6,249.3 385.2,263 385.9,249 386.5,262.5 387.2,250.5 387.8,263 388.5,250.1 389.1,263.2 389.8,250 390.4,263.2 391.1,250.2 391.7,262.2 392.4,250.2 393,262.1 393.7,252.1 394.3,266.6 395,266.6 395.6,266.6 396.3,266.6 396.9,266.6 397.6,266.6 398.2,266.6 398.9,266.6 399.5,266.6 400.2,249.6 400.8,266.6 401.5,250.3 402.1,266.2 402.8,250 403.4,265.5 404.1,249.7 404.7,267 405.4,249.1 406,265.9 406.7,249.7 407.3,266.4 408,249.6 408.6,266.9 409.3,249.5 409.9,266.5 410.6,250.8 411.2,266.2 411.9,250.1 412.5,266.7 413.2,257.7 413.8,264.7 414.5,260.5 415.1,264.4 415.8,260.3 416.4,264.2 417.1,259.6 417.7,265.7 418.4,264.5 419,280.2 419.7,268.6 420.3,281.6 421,268.7 421.6,281.3 422.3,268.6 422.9,280.8 423.6,267.7 424.2,281.1 424.9,268.8 425.5,281.3 426.2,268.3 426.8,280.3 427.5,268.2 428.1,280.7 428.8,268.5 429.4,280.5 430.1,268.5 430.7,281.2 431.4,268.9 432,280.2 432.7,268.2 433.3,280.2 434,268 434.6,280.2 435.3,268.5 435.9,281.5 436.6,267.5 437.2,280.8 437.9,267.9 438.5,280.7 439.2,268.4 439.8,280.4 440.5,268.1 441.1,280.9 441.8,268.7 442.4,281 443.1,268.3 443.7,281.5 444.4,267.5 445,281.5 445.7,267.7 446.3,281.1 447,268.8 447.6,280.4 448.3,267.5 448.9,281.1 449.6,267.6 450.2,280.6 450.9,268.7 451.5,280.2 452.2,268 452.8,281.1 453.5,267.4 454.1,280.4 454.8,268.3 455.4,270.5 456.1,266.4 456.7,266.8 457.4,266.8 458,266.8 458.7,266.8 459.3,266.8 460,266.8 460.6,266.8 461.3,261.6 461.9,265.9 462.6,249 463.2,264.9 463.9,249.5 464.5,265 465.2,248.1 465.8,265.4 466.5,247.9 467.1,265 467.8,248.7 468.4,265.3 469.1,249 469.7,265.6 470.4,248.9 471,265.6 471.7,249.3 472.3,266.3 473,247.9 473.6,265 474.3,248.3 474.9,264.7 475.6,248.8 476.2,266.3 476.9,249.5 477.5,265.7 478.2,249.2 478.8,264.5 479.5,249.7 480.1,266.1 480.8,249 481.4,265.2 482.1,248.7 482.7,265 483.4,248.7 484,264.6 484.7,262.8 485.3,262.8 486,262.7 486.6,262.7 487.3,262.7 487.9,262.7 488.6,262.6 489.2,262.6 489.9,255.5 490.5,262.4 491.2,248.2 491.8,262.7 492.5,249.1 493.1,263.6 493.8,249.2 494.4,262.2 495.1,248.9 495.7,263.3 496.4,248.9 497,262.1 497.7,248.5 498.3,262.6 499,248.7 499.6,262.9 500.3,248.4 500.9,262.4 501.6,249.3 502.2,263.7 502.9,248.2 503.5,263.2 504.2,249 504.8,262.7 505.5,248.8 506.1,262.7 506.8,249.2 507.4,262.4 508.1,249.1 508.7,262.4 509.4,249.5 510,263.1 510.7,248.3 511.3,262.9 512,249.1 512.6,262.4 513.3,256.4 513.9,264 514.6,264 515.2,264 515.9,264 516.5,264 517.2,264 517.8,264 518.5,264 519.1,265.7 519.8,268.6 520.4,282.6 521.1,270.8 521.7,281.7 522.4,269.7 523,281.3 523.7,269.5 524.3,282.2 525,270.4 525.6,281.8 526.3,270.5 526.9,282 527.6,270.2 528.2,282.6 528.9,270.6 529.5,282.5 530.2,269.8 530.8,281.8 531.5,270.4 532.1,282.1 532.8,270 533.4,271.8 534.1,267.8 534.7,267.8 535.4,267.7" fill="none" stroke="#0000ff" stroke-width="0.7" stroke-linejoin="round"/>
<polyline points="366.4,263.6 378.4,263.6 379.6,255 381,253 382.4,255 383.6,252 385,252.4 387,254.4 390,255.6 393,259 394,262 394.6,267 399,267 400.4,265.6 402,262 405,261 412,260.4 414,261.6 416.4,260 418,262 419.2,270 421,271.6 424,272 425.4,269 427,272 434,274.4 444,276.4 448,277.6 450,279.6 451.6,277.6 454,277 455.2,270 456.4,267 461,267 462,261 463,257 466,257 472,258.4 478,259.6 482,261 483.6,262 484.6,265.6 489.6,265.6 490.4,259 492,255.6 496,254.4 500,252 504,251.6 508,252 512,252.4 513,256 514,263 519,263 520,268 521,275 524,276.4 526.4,277.6 528,279.6 529.6,277 531.6,275 532.6,268 533.4,263.6 536,263.6" fill="none" stroke="#ff0000" stroke-width="1.7" stroke-linejoin="round"/>
</g>
<path d="M366.4 285.3v1.8M423.7 285.3v1.8M481.1 285.3v1.8M538.5 285.3v1.8M357.6 246.8h-1.8M357.6 264.3h-1.8M357.6 282h-1.8" stroke="#222" stroke-width="0.5" fill="none"/>
<path d="M380.7 285.3v1M395 285.3v1M409.4 285.3v1M438 285.3v1M452.3 285.3v1M466.7 285.3v1M495.3 285.3v1M509.6 285.3v1M524 285.3v1M357.6 250.3h-1M357.6 253.8h-1M357.6 257.3h-1M357.6 260.8h-1M357.6 267.8h-1M357.6 271.3h-1M357.6 274.8h-1M357.6 278.3h-1" stroke="#444" stroke-width="0.4" fill="none"/>
<rect x="357.6" y="246.1" width="186.6" height="39.2" fill="none" stroke="#222" stroke-width="0.55"/>
<text x="353.9" y="250" text-anchor="end" class="tk">5</text>
<text x="353.9" y="267.5" text-anchor="end" class="tk">0</text>
<text x="353.9" y="285.2" text-anchor="end" class="tk">−5</text>
<text transform="translate(333.4,265.7) rotate(-90)" text-anchor="middle" class="yl"><tspan class="tau">τ</tspan><tspan class="sub" dy="1.6">6</tspan><tspan dy="-1.6"> [Nm]</tspan></text>
<text x="366.4" y="295.6" text-anchor="middle" class="tk">0</text>
<text x="423.7" y="295.6" text-anchor="middle" class="tk">20</text>
<text x="481.1" y="295.6" text-anchor="middle" class="tk">40</text>
<text x="538.5" y="295.6" text-anchor="middle" class="tk">60</text>
<text x="451.7" y="307" text-anchor="middle" class="sf" textLength="28.6" lengthAdjust="spacingAndGlyphs">Time [s]</text>
<path d="M376.6 318.4H395" stroke="#0000ff" stroke-width="1.1"/>
<text x="402.2" y="322.1" class="sf" textLength="33.5" lengthAdjust="spacingAndGlyphs">Measured</text>
<path d="M456.6 318.4H475.5" stroke="#ff0000" stroke-width="1.1"/>
<text x="482.8" y="322.1" class="sf" textLength="35.5" lengthAdjust="spacingAndGlyphs">Prediction</text>
</svg>
<div class="cap" id="capa" style="left:3px;top:328.0px;">(<b>a</b>) Six-dimensional force–torque sensor—<br>example 1</div>
<div class="cap" id="capb" style="left:323px;letter-spacing:0.05px;top:328.0px;">(<b>b</b>) Strain gauge—example 1</div>
</body></html>
